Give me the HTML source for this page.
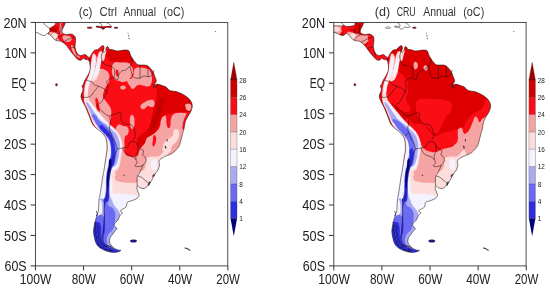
<!DOCTYPE html>
<html><head><meta charset="utf-8"><title>Annual temperature maps</title>
<style>
html,body{margin:0;padding:0;background:#fff;}
svg{display:block;}
text{font-family:"Liberation Sans",sans-serif;}
.ax{font-size:15px;fill:#222;}
.ti{font-size:12.3px;fill:#333;}
.cb{font-size:7px;fill:#222;}
</style></head><body>
<svg width="550" height="290" viewBox="0 0 550 290">
<defs><filter id="blur" x="-5%" y="-5%" width="110%" height="110%"><feGaussianBlur stdDeviation="0.45"/></filter></defs>
<rect width="550" height="290" fill="#fff"/>
<g transform="translate(0,0)">
<clipPath id="landL">
<path d="M89.5,58.0 C89.9,57.0 90.3,56.2 91.0,55.0 C91.7,53.8 92.2,53.0 93.0,52.0 C93.8,51.0 94.0,50.5 95.0,50.0 C96.0,49.5 97.0,50.0 98.0,49.5 C99.0,49.0 99.0,48.3 100.0,47.5 C101.0,46.7 102.2,45.5 103.0,45.5 C103.8,45.5 103.9,46.6 104.0,47.5 C104.1,48.4 103.6,49.0 103.5,50.0 C103.4,51.0 103.2,52.2 103.5,52.5 C103.8,52.8 104.5,52.2 105.0,51.5 C105.5,50.8 105.6,50.0 106.0,49.0 C106.4,48.0 106.5,46.8 107.0,46.5 C107.5,46.2 108.0,46.9 108.5,47.5 C109.0,48.1 108.8,48.9 109.5,49.3 C110.2,49.7 110.9,49.3 112.0,49.5 C113.1,49.7 113.8,50.2 115.0,50.5 C116.2,50.8 116.6,51.0 118.0,51.0 C119.4,51.0 120.4,50.5 122.0,50.3 C123.6,50.1 124.6,49.9 126.0,50.0 C127.4,50.1 128.1,50.0 129.0,51.0 C129.9,52.0 129.8,53.5 130.5,55.0 C131.2,56.5 131.6,57.1 132.5,58.5 C133.4,59.9 133.9,60.8 135.0,62.0 C136.1,63.2 136.4,64.1 138.0,64.7 C139.6,65.3 141.2,64.8 143.0,65.0 C144.8,65.2 145.6,64.9 147.0,65.5 C148.4,66.1 148.8,66.7 150.0,68.0 C151.2,69.3 152.0,70.2 153.0,72.0 C154.0,73.8 154.3,75.2 155.0,77.0 C155.7,78.8 156.4,79.5 156.3,81.0 C156.2,82.5 154.2,83.9 154.5,84.5 C154.8,85.1 156.5,84.0 158.0,84.2 C159.5,84.4 160.4,84.9 162.0,85.5 C163.6,86.1 164.6,86.1 166.0,87.0 C167.4,87.9 167.8,89.2 169.0,90.0 C170.2,90.8 170.6,90.7 172.0,91.0 C173.4,91.3 174.4,91.1 176.0,91.5 C177.6,91.9 178.4,92.3 180.0,93.0 C181.6,93.7 182.6,94.2 184.0,95.0 C185.4,95.8 185.8,96.0 187.0,97.0 C188.2,98.0 189.0,98.6 190.0,100.0 C191.0,101.4 191.6,102.4 192.0,104.0 C192.4,105.6 192.4,106.2 192.0,108.0 C191.6,109.8 191.0,111.0 190.0,113.0 C189.0,115.0 188.0,116.0 187.0,118.0 C186.0,120.0 185.6,120.8 185.0,123.0 C184.4,125.2 184.5,126.8 184.0,129.0 C183.5,131.2 183.1,131.8 182.5,134.0 C181.9,136.2 181.7,137.6 181.0,140.0 C180.3,142.4 180.2,143.8 179.0,146.0 C177.8,148.2 176.6,149.4 175.0,151.0 C173.4,152.6 172.6,153.1 171.0,154.0 C169.4,154.9 168.8,154.7 167.0,155.5 C165.2,156.3 163.6,156.9 162.0,158.0 C160.4,159.1 159.5,159.6 159.0,161.0 C158.5,162.4 159.7,163.2 159.5,165.0 C159.3,166.8 158.9,168.2 158.0,170.0 C157.1,171.8 156.0,172.4 155.0,174.0 C154.0,175.6 154.0,176.2 153.0,178.0 C152.0,179.8 151.2,181.3 150.0,183.0 C148.8,184.7 148.2,185.4 147.0,186.5 C145.8,187.6 145.4,188.3 144.0,188.5 C142.6,188.7 141.3,188.2 140.0,187.7 C138.7,187.2 137.9,185.7 137.3,186.0 C136.7,186.3 136.8,187.6 137.0,189.0 C137.2,190.4 138.1,191.6 138.5,193.0 C138.9,194.4 139.5,194.8 139.0,196.0 C138.5,197.2 137.6,198.0 136.0,199.0 C134.4,200.0 132.7,200.3 131.0,201.0 C129.3,201.7 128.5,201.1 127.5,202.3 C126.5,203.5 127.1,205.6 126.0,207.0 C124.9,208.4 123.1,208.7 122.0,209.5 C120.9,210.3 120.2,210.3 120.3,211.0 C120.4,211.7 122.6,212.1 122.5,213.0 C122.4,213.9 120.9,214.1 120.0,215.5 C119.1,216.9 119.0,218.5 118.0,220.0 C117.0,221.5 115.7,221.8 115.0,223.0 C114.3,224.2 114.1,224.9 114.5,226.0 C114.9,227.1 116.9,227.5 117.0,228.5 C117.1,229.5 116.0,229.7 115.0,231.0 C114.0,232.3 113.0,233.6 112.0,235.0 C111.0,236.4 110.5,236.6 110.0,238.0 C109.5,239.4 109.3,240.6 109.5,242.0 C109.7,243.4 110.1,243.8 111.0,245.0 C111.9,246.2 112.6,247.0 114.0,248.0 C115.4,249.0 116.6,249.5 118.0,250.0 C119.4,250.5 121.4,250.0 121.0,250.5 C120.6,251.0 118.2,252.0 116.0,252.3 C113.8,252.6 112.4,252.5 110.0,252.0 C107.6,251.5 106.2,251.0 104.0,250.0 C101.8,249.0 100.6,248.4 99.0,247.0 C97.4,245.6 96.9,244.8 96.0,243.0 C95.1,241.2 95.0,240.2 94.5,238.0 C94.0,235.8 93.6,234.2 93.5,232.0 C93.4,229.8 93.7,229.0 94.0,227.0 C94.3,225.0 94.4,224.4 95.0,222.0 C95.6,219.6 96.3,217.4 97.0,215.0 C97.7,212.6 98.1,213.0 98.5,210.0 C98.9,207.0 98.7,203.0 99.0,200.0 C99.3,197.0 99.5,198.0 100.0,195.0 C100.5,192.0 100.9,189.0 101.5,185.0 C102.1,181.0 102.5,178.0 103.0,175.0 C103.5,172.0 103.5,173.0 104.0,170.0 C104.5,167.0 104.9,164.0 105.5,160.0 C106.1,156.0 106.7,152.6 107.0,150.0 C107.3,147.4 107.1,149.0 107.0,147.0 C106.9,145.0 107.1,142.4 106.5,140.0 C105.9,137.6 105.3,136.8 104.0,135.0 C102.7,133.2 101.8,132.6 100.0,131.0 C98.2,129.4 96.6,128.6 95.0,127.0 C93.4,125.4 93.0,124.8 92.0,123.0 C91.0,121.2 90.8,120.0 90.0,118.0 C89.2,116.0 88.8,115.0 88.0,113.0 C87.2,111.0 86.8,109.8 86.0,108.0 C85.2,106.2 84.8,105.6 84.0,104.0 C83.2,102.4 82.6,101.6 82.0,100.0 C81.4,98.4 80.8,98.0 81.0,96.0 C81.2,94.0 82.8,92.0 83.0,90.0 C83.2,88.0 82.0,87.0 82.0,86.0 C82.0,85.0 82.4,86.2 83.0,85.0 C83.6,83.8 84.0,82.0 85.0,80.0 C86.0,78.0 87.0,77.0 88.0,75.0 C89.0,73.0 89.6,72.0 90.0,70.0 C90.4,68.0 90.2,67.0 90.0,65.0 C89.8,63.0 89.1,61.4 89.0,60.0 C88.9,58.6 89.1,59.0 89.5,58.0 Z"/>
<path d="M57.0,21.0 C59.0,20.2 63.5,20.2 65.0,21.0 C66.5,21.8 64.9,23.6 64.5,25.0 C64.1,26.4 63.5,26.8 63.0,28.0 C62.5,29.2 62.0,29.9 62.0,31.0 C62.0,32.1 62.0,32.8 63.0,33.5 C64.0,34.2 65.4,34.4 67.0,34.5 C68.6,34.6 69.6,33.8 71.0,34.0 C72.4,34.2 73.1,34.7 74.0,35.5 C74.9,36.3 75.2,36.7 75.5,38.0 C75.8,39.3 75.6,40.4 75.5,42.0 C75.4,43.6 75.0,44.6 75.0,46.0 C75.0,47.4 75.1,47.6 75.5,49.0 C75.9,50.4 76.1,51.7 77.0,53.0 C77.9,54.3 78.8,55.1 80.0,55.5 C81.2,55.9 82.0,55.2 83.0,55.0 C84.0,54.8 84.2,54.3 85.0,54.5 C85.8,54.7 86.1,55.3 87.0,56.0 C87.9,56.7 88.9,57.1 89.5,58.0 C90.1,58.9 90.3,60.2 89.8,60.5 C89.3,60.8 88.0,59.9 87.0,59.6 C86.0,59.3 85.7,59.5 85.0,59.2 C84.3,58.9 83.8,58.3 83.3,58.3 C82.8,58.3 83.0,58.9 82.3,59.3 C81.6,59.7 81.1,60.4 80.0,60.3 C78.9,60.2 78.0,59.5 77.0,58.7 C76.0,57.9 76.0,57.6 75.0,56.5 C74.0,55.4 73.2,54.5 72.0,53.0 C70.8,51.5 69.8,50.1 69.0,49.0 C68.2,47.9 68.6,48.3 68.0,47.5 C67.4,46.7 67.0,46.0 66.0,45.0 C65.0,44.0 64.2,43.3 63.0,42.5 C61.8,41.7 61.4,41.4 60.0,41.0 C58.6,40.6 57.4,41.1 56.0,40.5 C54.6,39.9 54.0,39.0 53.0,38.0 C52.0,37.0 52.0,36.4 51.0,35.5 C50.0,34.6 48.2,34.4 48.0,33.5 C47.8,32.6 49.7,31.9 50.0,31.0 C50.3,30.1 49.3,29.7 49.5,29.0 C49.7,28.3 49.9,28.3 51.0,27.5 C52.1,26.7 53.8,26.3 55.0,25.0 C56.2,23.7 55.0,21.8 57.0,21.0 Z"/>
<path d="M96.5,27.2 C97.2,27.5 98.7,27.4 100.1,27.8 C101.5,28.2 102.1,29.4 103.3,29.3 C104.5,29.2 104.8,27.8 106.2,27.5 C107.6,27.2 109.4,27.9 110.5,27.7 C111.6,27.5 112.0,26.7 111.5,26.3 C111.0,25.9 109.5,25.9 108.0,25.9 C106.5,25.9 105.3,26.2 104.0,26.3 C102.7,26.4 102.6,26.4 101.6,26.4 C100.6,26.4 99.9,26.5 98.9,26.4 C97.9,26.3 97.2,25.9 96.7,26.1 C96.2,26.3 95.8,26.9 96.5,27.2 Z"/>
</clipPath>
<clipPath id="frameL"><rect x="35" y="22" width="193" height="244"/></clipPath>
<g clip-path="url(#frameL)">
<g clip-path="url(#landL)" filter="url(#blur)">
<rect x="30" y="18" width="205" height="255" fill="#fb0d18"/>
<path d="M106.0,51.0 C107.9,49.7 108.3,49.4 112.0,49.0 C115.7,48.6 115.5,49.2 120.0,49.5 C124.5,49.8 125.8,48.3 129.0,50.0 C132.2,51.7 130.7,53.3 132.0,56.0 C133.3,58.7 134.5,58.4 134.0,60.0 C133.5,61.6 132.1,61.6 130.0,62.0 C127.9,62.4 128.7,61.5 126.0,61.5 C123.3,61.5 123.2,61.9 120.0,62.0 C116.8,62.1 116.7,62.3 114.0,62.0 C111.3,61.7 111.9,62.1 110.0,61.0 C108.1,59.9 108.3,59.9 107.0,58.0 C105.7,56.1 105.3,55.9 105.0,54.0 C104.7,52.1 104.1,52.3 106.0,51.0 Z" fill="#de0000"/>
<path d="M157.0,83.0 C154.1,84.9 157.3,87.5 157.0,92.0 C156.7,96.5 156.8,95.7 156.0,100.0 C155.2,104.3 155.1,103.7 154.0,108.0 C152.9,112.3 153.1,111.7 152.0,116.0 C150.9,120.3 151.6,120.0 150.0,124.0 C148.4,128.0 148.7,128.1 146.0,131.0 C143.3,133.9 142.4,132.3 140.0,135.0 C137.6,137.7 137.0,137.8 137.0,141.0 C137.0,144.2 137.6,146.5 140.0,147.0 C142.4,147.5 143.3,145.4 146.0,143.0 C148.7,140.6 147.9,140.4 150.0,138.0 C152.1,135.6 151.9,136.7 154.0,134.0 C156.1,131.3 156.1,131.2 158.0,128.0 C159.9,124.8 159.4,125.2 161.0,122.0 C162.6,118.8 161.6,118.1 164.0,116.0 C166.4,113.9 166.3,115.1 170.0,114.0 C173.7,112.9 173.7,112.5 178.0,112.0 C182.3,111.5 181.7,112.5 186.0,112.0 C190.3,111.5 191.6,113.2 194.0,110.0 C196.4,106.8 196.6,104.5 195.0,100.0 C193.4,95.5 192.5,95.9 188.0,93.0 C183.5,90.1 183.3,91.1 178.0,89.0 C172.7,86.9 173.6,86.6 168.0,85.0 C162.4,83.4 159.9,81.1 157.0,83.0 Z" fill="#de0000"/>
<path d="M159.0,99.0 C160.9,97.1 163.2,96.6 164.0,99.0 C164.8,101.4 163.3,103.2 162.0,108.0 C160.7,112.8 160.6,112.2 159.0,117.0 C157.4,121.8 157.6,122.3 156.0,126.0 C154.4,129.7 154.6,129.9 153.0,131.0 C151.4,132.1 150.3,132.4 150.0,130.0 C149.7,127.6 150.7,126.5 152.0,122.0 C153.3,117.5 153.7,117.3 155.0,113.0 C156.3,108.7 155.9,109.7 157.0,106.0 C158.1,102.3 157.1,100.9 159.0,99.0 Z" fill="#c40000"/>
<path d="M100.0,69.0 C102.4,68.7 102.7,68.9 105.0,70.0 C107.3,71.1 107.4,70.9 108.5,73.0 C109.6,75.1 109.3,75.5 109.3,78.0 C109.3,80.5 109.4,80.2 108.5,82.5 C107.6,84.8 107.2,84.2 106.0,86.5 C104.8,88.8 104.8,88.2 104.0,91.0 C103.2,93.8 102.7,94.6 103.0,97.0 C103.3,99.4 103.7,98.1 105.0,100.0 C106.3,101.9 106.4,101.5 108.0,104.0 C109.6,106.5 110.2,106.3 111.0,109.5 C111.8,112.7 111.3,112.7 111.0,116.0 C110.7,119.3 110.8,119.1 110.0,122.0 C109.2,124.9 109.6,126.5 108.0,127.0 C106.4,127.5 106.1,125.9 104.0,124.0 C101.9,122.1 102.1,122.7 100.0,120.0 C97.9,117.3 98.1,117.2 96.0,114.0 C93.9,110.8 93.9,111.7 92.0,108.0 C90.1,104.3 90.3,103.7 89.0,100.0 C87.7,96.3 87.5,97.2 87.0,94.0 C86.5,90.8 86.5,91.2 87.0,88.0 C87.5,84.8 87.7,85.2 89.0,82.0 C90.3,78.8 90.1,78.9 92.0,76.0 C93.9,73.1 93.9,72.9 96.0,71.0 C98.1,69.1 97.6,69.3 100.0,69.0 Z" fill="#f6a3a3"/>
<path d="M95.5,98.5 C95.9,96.9 96.6,97.3 97.5,99.0 C98.4,100.7 98.5,101.5 99.0,105.0 C99.5,108.5 99.9,110.0 99.5,112.0 C99.1,114.0 98.4,114.4 97.5,112.5 C96.6,110.6 96.5,108.7 96.0,105.0 C95.5,101.3 95.1,100.1 95.5,98.5 Z" fill="#fb0d18"/>
<path d="M114.0,63.0 C116.4,61.0 117.3,62.5 121.0,62.5 C124.7,62.5 125.3,62.1 128.0,63.0 C130.7,63.9 129.7,64.1 131.0,66.0 C132.3,67.9 132.7,67.6 133.0,70.0 C133.3,72.4 133.1,72.6 132.0,75.0 C130.9,77.4 131.1,77.1 129.0,79.0 C126.9,80.9 126.7,81.5 124.0,82.0 C121.3,82.5 121.1,81.5 119.0,81.0 C116.9,80.5 117.6,81.3 116.0,80.0 C114.4,78.7 114.1,78.7 113.0,76.0 C111.9,73.3 111.7,73.5 112.0,70.0 C112.3,66.5 111.6,65.0 114.0,63.0 Z" fill="#f6a3a3"/>
<path d="M116.0,70.0 C116.5,69.1 117.3,69.2 118.0,70.5 C118.7,71.8 118.8,73.4 118.5,75.0 C118.2,76.6 117.7,76.8 117.0,76.5 C116.3,76.2 116.3,75.7 116.0,74.0 C115.7,72.3 115.5,70.9 116.0,70.0 Z" fill="#fb0d18"/>
<path d="M136.0,68.0 C137.9,67.1 138.1,67.6 141.0,67.8 C143.9,68.0 144.5,67.7 147.0,68.8 C149.5,69.9 149.2,69.5 150.5,72.0 C151.8,74.5 151.9,74.8 152.0,78.0 C152.1,81.2 152.1,81.7 151.0,84.0 C149.9,86.3 150.1,86.1 148.0,86.5 C145.9,86.9 145.7,85.9 143.0,85.5 C140.3,85.1 140.7,84.1 138.0,85.0 C135.3,85.9 135.1,88.7 133.0,89.0 C130.9,89.3 131.6,88.1 130.0,86.0 C128.4,83.9 127.9,83.4 127.0,81.0 C126.1,78.6 125.7,77.5 126.5,77.0 C127.3,76.5 128.3,79.3 130.0,79.0 C131.7,78.7 131.9,78.1 133.0,76.0 C134.1,73.9 133.2,73.1 134.0,71.0 C134.8,68.9 134.1,68.9 136.0,68.0 Z" fill="#f6a3a3"/>
<path d="M121.0,86.0 C122.1,85.2 123.9,85.2 125.0,86.0 C126.1,86.8 126.1,88.2 125.0,89.0 C123.9,89.8 122.1,89.8 121.0,89.0 C119.9,88.2 119.9,86.8 121.0,86.0 Z" fill="#f6a3a3"/>
<path d="M141.0,105.0 C142.1,103.4 142.6,103.3 145.0,102.0 C147.4,100.7 147.6,100.3 150.0,100.0 C152.4,99.7 152.9,99.4 154.0,101.0 C155.1,102.6 154.8,104.4 154.0,106.0 C153.2,107.6 152.6,107.0 151.0,107.0 C149.4,107.0 149.9,105.5 148.0,106.0 C146.1,106.5 145.9,108.5 144.0,109.0 C142.1,109.5 141.8,109.1 141.0,108.0 C140.2,106.9 139.9,106.6 141.0,105.0 Z" fill="#f6a3a3"/>
<path d="M130.5,116.0 C131.4,114.4 132.4,114.4 133.5,116.0 C134.6,117.6 134.5,118.8 134.5,122.0 C134.5,125.2 134.4,126.4 133.5,128.0 C132.6,129.6 131.9,129.6 131.0,128.0 C130.1,126.4 130.1,125.2 130.0,122.0 C129.9,118.8 129.6,117.6 130.5,116.0 Z" fill="#f6a3a3"/>
<path d="M186.0,104.0 C187.2,103.2 188.5,103.2 190.0,104.0 C191.5,104.8 191.5,105.3 191.5,107.0 C191.5,108.7 191.2,109.7 190.0,110.5 C188.8,111.3 188.2,110.9 187.0,110.0 C185.8,109.1 185.8,108.6 185.5,107.0 C185.2,105.4 184.8,104.8 186.0,104.0 Z" fill="#f6a3a3"/>
<path d="M117.0,126.0 C119.9,122.3 120.1,125.5 123.0,126.0 C125.9,126.5 126.7,125.9 128.0,128.0 C129.3,130.1 128.8,131.6 128.0,134.0 C127.2,136.4 125.9,134.1 125.0,137.0 C124.1,139.9 124.5,140.7 124.5,145.0 C124.5,149.3 123.5,149.9 125.0,153.0 C126.5,156.1 126.8,155.7 130.0,156.5 C133.2,157.3 134.6,157.2 137.0,156.0 C139.4,154.8 137.9,154.1 139.0,152.0 C140.1,149.9 139.4,150.4 141.0,148.0 C142.6,145.6 143.4,145.7 145.0,143.0 C146.6,140.3 145.1,140.1 147.0,138.0 C148.9,135.9 149.3,136.9 152.0,135.0 C154.7,133.1 154.9,133.4 157.0,131.0 C159.1,128.6 158.9,128.9 160.0,126.0 C161.1,123.1 159.9,122.7 161.0,120.0 C162.1,117.3 162.7,116.8 164.0,116.0 C165.3,115.2 165.2,114.3 166.0,117.0 C166.8,119.7 165.9,123.3 167.0,126.0 C168.1,128.7 168.9,128.9 170.0,127.0 C171.1,125.1 169.9,122.5 171.0,119.0 C172.1,115.5 171.9,115.6 174.0,114.0 C176.1,112.4 176.6,113.3 179.0,113.0 C181.4,112.7 180.9,112.7 183.0,113.0 C185.1,113.3 184.1,112.7 187.0,114.0 C189.9,115.3 192.7,105.7 194.0,118.0 C195.3,130.3 199.7,139.5 192.0,160.0 C184.3,180.5 178.9,181.7 165.0,195.0 C151.1,208.3 157.3,206.0 140.0,210.0 C122.7,214.0 110.7,226.0 100.0,210.0 C89.3,194.0 96.8,168.7 100.0,150.0 C103.2,131.3 107.5,146.4 112.0,140.0 C116.5,133.6 114.1,129.7 117.0,126.0 Z" fill="#f6a3a3"/>
<path d="M187.5,113.0 C189.0,111.9 190.7,110.7 191.0,112.0 C191.3,113.3 189.8,115.1 188.5,118.0 C187.2,120.9 186.9,120.2 186.0,123.0 C185.1,125.8 185.9,126.9 185.0,128.5 C184.1,130.1 183.2,130.2 182.6,129.0 C182.0,127.8 182.4,126.5 182.8,124.0 C183.2,121.5 183.3,121.6 184.0,119.5 C184.7,117.4 184.6,117.7 185.5,116.0 C186.4,114.3 186.0,114.1 187.5,113.0 Z" fill="#fb0d18"/>
<path d="M153.5,136.0 C154.2,134.9 154.8,134.7 155.5,136.0 C156.2,137.3 156.4,138.3 156.0,141.0 C155.6,143.7 154.9,144.9 154.0,146.0 C153.1,147.1 152.8,146.6 152.5,145.0 C152.2,143.4 152.7,142.4 153.0,140.0 C153.3,137.6 152.8,137.1 153.5,136.0 Z" fill="#fb0d18"/>
<path d="M174.0,130.0 C175.3,128.7 176.7,128.4 178.0,130.0 C179.3,131.6 179.5,132.8 179.0,136.0 C178.5,139.2 177.9,139.3 176.0,142.0 C174.1,144.7 173.6,143.3 172.0,146.0 C170.4,148.7 172.1,150.4 170.0,152.0 C167.9,153.6 165.9,153.6 164.0,152.0 C162.1,150.4 162.5,148.9 163.0,146.0 C163.5,143.1 164.1,143.1 166.0,141.0 C167.9,138.9 168.1,139.6 170.0,138.0 C171.9,136.4 171.9,137.1 173.0,135.0 C174.1,132.9 172.7,131.3 174.0,130.0 Z" fill="#fddcdc"/>
<path d="M110.0,166.0 C114.8,166.0 116.1,164.4 118.0,166.0 C119.9,167.6 117.8,168.7 117.0,172.0 C116.2,175.3 114.2,175.9 115.0,178.5 C115.8,181.1 116.0,180.7 120.0,181.8 C124.0,182.9 125.5,182.7 130.0,182.8 C134.5,182.9 135.1,183.8 137.0,182.0 C138.9,180.2 136.2,178.7 137.0,176.0 C137.8,173.3 137.9,174.1 140.0,172.0 C142.1,169.9 143.4,171.2 145.0,168.0 C146.6,164.8 144.7,163.0 146.0,160.0 C147.3,157.0 146.8,157.7 150.0,156.8 C153.2,155.9 153.2,157.0 158.0,156.5 C162.8,156.0 165.3,143.4 168.0,155.0 C170.7,166.6 186.1,185.3 168.0,200.0 C149.9,214.7 118.1,219.1 100.0,210.0 C81.9,200.9 97.3,177.7 100.0,166.0 C102.7,154.3 105.2,166.0 110.0,166.0 Z" fill="#fddcdc"/>
<path d="M116.0,171.0 C117.2,170.2 118.8,169.9 120.0,171.0 C121.2,172.1 121.3,173.7 120.5,175.0 C119.7,176.3 118.3,176.3 117.0,176.0 C115.7,175.7 115.8,175.3 115.5,174.0 C115.2,172.7 114.8,171.8 116.0,171.0 Z" fill="#f6a3a3"/>
<path d="M152.0,160.0 C153.3,158.9 154.7,158.7 156.0,160.0 C157.3,161.3 157.3,162.3 157.0,165.0 C156.7,167.7 156.3,168.9 155.0,170.0 C153.7,171.1 153.1,170.6 152.0,169.0 C150.9,167.4 151.0,166.4 151.0,164.0 C151.0,161.6 150.7,161.1 152.0,160.0 Z" fill="#f3f3ff"/>
<path d="M113.0,193.0 C115.0,195.3 116.0,193.1 120.0,193.5 C124.0,193.9 124.0,194.1 128.0,194.5 C132.0,194.9 131.5,194.1 135.0,195.0 C138.5,195.9 142.9,195.1 141.0,198.0 C139.1,200.9 132.0,202.8 128.0,206.0 C124.0,209.2 127.6,207.9 126.0,210.0 C124.4,212.1 124.4,213.2 122.0,214.0 C119.6,214.8 119.4,214.1 117.0,213.0 C114.6,211.9 114.9,212.4 113.0,210.0 C111.1,207.6 111.3,206.7 110.0,204.0 C108.7,201.3 108.5,203.7 108.0,200.0 C107.5,196.3 107.7,195.3 108.0,190.0 C108.3,184.7 108.2,184.0 109.0,180.0 C109.8,176.0 110.1,173.7 111.0,175.0 C111.9,176.3 112.0,180.2 112.5,185.0 C113.0,189.8 111.0,190.7 113.0,193.0 Z" fill="#f3f3ff"/>
<path d="M84.0,98.0 C84.3,96.1 84.4,96.2 86.0,97.0 C87.6,97.8 87.9,98.6 90.0,101.0 C92.1,103.4 91.6,103.1 94.0,106.0 C96.4,108.9 96.3,108.8 99.0,112.0 C101.7,115.2 101.3,114.9 104.0,118.0 C106.7,121.1 106.1,120.6 109.0,123.5 C111.9,126.4 112.3,126.2 115.0,129.0 C117.7,131.8 117.3,131.1 119.0,134.0 C120.7,136.9 120.6,137.1 121.5,140.0 C122.4,142.9 122.4,141.8 122.5,145.0 C122.6,148.2 122.4,148.5 122.0,152.0 C121.6,155.5 121.5,154.8 121.0,158.0 C120.5,161.2 120.8,161.3 120.0,164.0 C119.2,166.7 120.1,165.9 118.0,168.0 C115.9,170.1 113.9,168.8 112.0,172.0 C110.1,175.2 111.3,173.9 111.0,180.0 C110.7,186.1 110.5,189.7 111.0,195.0 C111.5,200.3 115.9,198.7 113.0,200.0 C110.1,201.3 103.2,202.7 100.0,200.0 C96.8,197.3 100.2,195.9 101.0,190.0 C101.8,184.1 101.9,184.7 103.0,178.0 C104.1,171.3 103.8,171.9 105.0,165.0 C106.2,158.1 106.8,157.1 107.5,152.0 C108.2,146.9 107.7,149.1 107.5,146.0 C107.3,142.9 107.6,143.2 106.8,140.5 C106.0,137.8 106.2,138.3 104.5,136.0 C102.8,133.7 102.8,134.3 100.5,132.0 C98.2,129.7 98.0,129.9 96.0,127.5 C94.0,125.1 94.3,125.5 93.0,123.0 C91.7,120.5 92.1,120.7 91.0,118.0 C89.9,115.3 90.1,115.7 89.0,113.0 C87.9,110.3 88.1,110.4 87.0,108.0 C85.9,105.6 85.8,106.7 85.0,104.0 C84.2,101.3 83.7,99.9 84.0,98.0 Z" fill="#fddcdc"/>
<path d="M84.5,98.5 C84.5,97.0 84.7,97.1 86.0,98.0 C87.3,98.9 87.6,99.7 89.5,102.0 C91.4,104.3 90.7,103.7 93.0,106.5 C95.3,109.3 95.3,109.3 98.0,112.5 C100.7,115.7 100.3,115.4 103.0,118.5 C105.7,121.6 105.1,121.1 108.0,124.0 C110.9,126.9 111.3,126.7 114.0,129.5 C116.7,132.3 116.3,131.7 118.0,134.5 C119.7,137.3 119.6,137.2 120.5,140.0 C121.4,142.8 121.4,141.8 121.5,145.0 C121.6,148.2 121.4,148.5 121.0,152.0 C120.6,155.5 120.5,154.8 120.0,158.0 C119.5,161.2 119.8,161.3 119.0,164.0 C118.2,166.7 118.9,165.9 117.0,168.0 C115.1,170.1 113.6,168.8 112.0,172.0 C110.4,175.2 111.3,173.9 111.0,180.0 C110.7,186.1 110.5,189.7 111.0,195.0 C111.5,200.3 115.9,198.7 113.0,200.0 C110.1,201.3 103.2,202.7 100.0,200.0 C96.8,197.3 100.2,195.9 101.0,190.0 C101.8,184.1 101.9,184.7 103.0,178.0 C104.1,171.3 103.8,171.9 105.0,165.0 C106.2,158.1 106.7,157.1 107.5,152.0 C108.3,146.9 108.0,149.2 108.0,146.0 C108.0,142.8 108.2,142.8 107.5,140.0 C106.8,137.2 107.1,137.8 105.5,135.5 C103.9,133.2 103.8,133.8 101.5,131.5 C99.2,129.2 99.0,129.4 97.0,127.0 C95.0,124.6 95.3,125.0 94.0,122.5 C92.7,120.0 93.1,120.2 92.0,117.5 C90.9,114.8 91.1,115.2 90.0,112.5 C88.9,109.8 89.1,109.9 88.0,107.5 C86.9,105.1 86.9,105.9 86.0,103.5 C85.1,101.1 84.5,100.0 84.5,98.5 Z" fill="#f3f3ff"/>
<path d="M86.5,102.0 C87.0,101.6 86.9,101.9 88.0,103.0 C89.1,104.1 89.2,104.1 90.5,106.0 C91.8,107.9 91.4,107.6 93.0,110.0 C94.6,112.4 94.5,112.3 96.5,115.0 C98.5,117.7 97.7,117.3 100.5,120.0 C103.3,122.7 103.8,122.3 107.0,125.0 C110.2,127.7 109.8,127.3 112.5,130.0 C115.2,132.7 115.3,132.3 117.0,135.0 C118.7,137.7 118.2,137.3 119.0,140.0 C119.8,142.7 119.9,142.3 120.0,145.0 C120.1,147.7 119.8,147.3 119.5,150.0 C119.2,152.7 119.4,152.3 119.0,155.0 C118.6,157.7 118.8,157.3 118.0,160.0 C117.2,162.7 117.6,162.6 116.0,165.0 C114.4,167.4 113.6,165.3 112.0,169.0 C110.4,172.7 110.6,174.7 110.0,179.0 C109.4,183.3 109.7,180.7 109.7,185.0 C109.7,189.3 109.4,191.0 110.0,195.0 C110.6,199.0 110.9,197.3 112.0,200.0 C113.1,202.7 112.4,202.3 114.0,205.0 C115.6,207.7 116.4,207.3 118.0,210.0 C119.6,212.7 119.9,212.3 120.0,215.0 C120.1,217.7 119.3,217.3 118.5,220.0 C117.7,222.7 117.1,222.3 117.0,225.0 C116.9,227.7 119.1,227.3 118.0,230.0 C116.9,232.7 115.0,232.3 113.0,235.0 C111.0,237.7 110.9,237.3 110.5,240.0 C110.1,242.7 108.4,242.3 111.5,245.0 C114.6,247.7 119.2,247.6 122.0,250.0 C124.8,252.4 127.9,252.9 122.0,254.0 C116.1,255.1 108.3,256.1 100.0,254.0 C91.7,251.9 93.4,253.7 91.0,246.0 C88.6,238.3 90.2,233.3 91.0,225.0 C91.8,216.7 92.4,220.1 94.0,215.0 C95.6,209.9 94.6,210.0 97.0,206.0 C99.4,202.0 100.9,202.9 103.0,200.0 C105.1,197.1 104.2,199.0 105.0,195.0 C105.8,191.0 105.7,189.3 106.0,185.0 C106.3,180.7 105.7,183.0 106.0,179.0 C106.3,175.0 106.3,173.7 107.0,170.0 C107.7,166.3 108.0,167.7 108.5,165.0 C109.0,162.3 108.4,162.7 109.0,160.0 C109.6,157.3 110.1,157.7 110.6,155.0 C111.1,152.3 110.9,152.7 110.8,150.0 C110.7,147.3 110.7,147.5 110.2,145.0 C109.7,142.5 110.0,142.8 109.0,140.5 C108.0,138.2 107.9,138.6 106.3,136.5 C104.7,134.4 105.0,134.8 103.0,132.5 C101.0,130.2 100.7,130.3 98.8,128.0 C96.9,125.7 97.5,126.5 95.8,124.0 C94.1,121.5 93.9,121.3 92.5,118.5 C91.1,115.7 91.6,116.2 90.5,113.5 C89.4,110.8 89.6,110.9 88.5,108.5 C87.4,106.1 86.8,106.2 86.3,104.5 C85.8,102.8 86.0,102.4 86.5,102.0 Z" fill="#aaaaf3"/>
<path d="M95.5,115.5 C97.4,117.0 96.6,118.0 99.0,120.5 C101.4,123.0 101.6,122.3 104.5,125.0 C107.4,127.7 107.6,127.6 110.0,130.5 C112.4,133.4 112.0,132.9 113.5,136.0 C115.0,139.1 114.7,138.8 115.5,142.0 C116.3,145.2 116.2,144.5 116.5,148.0 C116.8,151.5 116.8,151.8 116.5,155.0 C116.2,158.2 116.2,157.3 115.5,160.0 C114.8,162.7 115.1,162.6 114.0,165.0 C112.9,167.4 112.7,165.3 111.5,169.0 C110.3,172.7 110.2,174.7 109.6,179.0 C109.0,183.3 109.3,180.7 109.2,185.0 C109.1,189.3 109.3,191.0 109.2,195.0 C109.1,199.0 109.3,197.3 109.0,200.0 C108.7,202.7 106.7,202.3 108.0,205.0 C109.3,207.7 112.1,206.0 114.0,210.0 C115.9,214.0 115.3,214.9 115.0,220.0 C114.7,225.1 114.9,225.0 113.0,229.0 C111.1,233.0 109.6,231.5 108.0,235.0 C106.4,238.5 106.5,238.8 107.0,242.0 C107.5,245.2 107.1,244.5 110.0,247.0 C112.9,249.5 120.7,249.6 118.0,251.5 C115.3,253.4 107.2,255.5 100.0,254.0 C92.8,252.5 93.4,253.7 91.0,246.0 C88.6,238.3 90.2,233.3 91.0,225.0 C91.8,216.7 92.1,219.8 94.0,215.0 C95.9,210.2 95.5,211.0 98.0,207.0 C100.5,203.0 101.5,203.2 103.5,200.0 C105.5,196.8 104.8,199.0 105.5,195.0 C106.2,191.0 106.1,189.3 106.3,185.0 C106.5,180.7 106.0,183.0 106.3,179.0 C106.6,175.0 106.8,173.7 107.5,170.0 C108.2,166.3 108.3,167.7 109.0,165.0 C109.7,162.3 109.5,162.7 110.0,160.0 C110.5,157.3 110.6,157.7 110.9,155.0 C111.2,152.3 111.2,152.7 111.1,150.0 C111.0,147.3 111.1,147.5 110.6,145.0 C110.1,142.5 110.4,142.8 109.4,140.5 C108.4,138.2 108.3,138.5 106.8,136.5 C105.3,134.5 105.5,135.1 103.6,133.0 C101.7,130.9 101.3,130.8 99.5,128.5 C97.7,126.2 98.3,126.9 96.8,124.5 C95.3,122.1 95.3,122.0 94.0,119.5 C92.7,117.0 91.6,116.1 92.0,115.0 C92.4,113.9 93.6,114.0 95.5,115.5 Z" fill="#6a6af2"/>
<path d="M101.0,125.0 C102.5,125.1 103.4,126.5 105.5,128.5 C107.6,130.5 107.3,130.2 109.0,132.5 C110.7,134.8 110.7,134.2 112.0,137.0 C113.3,139.8 113.2,139.5 114.0,143.0 C114.8,146.5 114.7,146.0 115.0,150.0 C115.3,154.0 115.3,154.3 115.0,158.0 C114.7,161.7 115.1,161.1 114.0,164.0 C112.9,166.9 112.3,165.0 111.0,169.0 C109.7,173.0 109.8,173.4 109.3,179.0 C108.8,184.6 109.2,184.4 109.0,190.0 C108.8,195.6 109.6,196.0 108.5,200.0 C107.4,204.0 105.9,197.3 105.0,205.0 C104.1,212.7 105.5,220.7 105.0,229.0 C104.5,237.3 103.3,232.3 103.0,236.0 C102.7,239.7 101.6,239.5 104.0,243.0 C106.4,246.5 108.3,246.7 112.0,249.0 C115.7,251.3 121.2,250.2 118.0,251.5 C114.8,252.8 107.2,255.5 100.0,254.0 C92.8,252.5 93.4,253.7 91.0,246.0 C88.6,238.3 90.2,233.3 91.0,225.0 C91.8,216.7 92.1,219.8 94.0,215.0 C95.9,210.2 95.5,211.0 98.0,207.0 C100.5,203.0 101.1,203.2 103.2,200.0 C105.3,196.8 104.9,199.0 105.8,195.0 C106.7,191.0 106.2,189.3 106.4,185.0 C106.6,180.7 106.2,183.0 106.6,179.0 C107.0,175.0 107.1,174.0 108.0,170.0 C108.9,166.0 109.1,167.2 110.0,164.0 C110.9,160.8 110.8,161.7 111.2,158.0 C111.6,154.3 111.5,153.7 111.4,150.0 C111.3,146.3 111.4,146.7 110.9,144.0 C110.4,141.3 110.7,142.1 109.7,140.0 C108.7,137.9 108.7,138.1 107.0,136.0 C105.3,133.9 105.1,134.1 103.2,132.0 C101.3,129.9 100.4,129.9 99.8,128.0 C99.2,126.1 99.5,124.9 101.0,125.0 Z" fill="#2e2ee0"/>
<path d="M109.3,160.0 C110.0,158.1 110.9,157.9 111.3,160.0 C111.7,162.1 111.3,164.0 110.7,168.0 C110.1,172.0 109.9,170.2 109.2,175.0 C108.5,179.8 108.8,183.1 108.2,186.0 C107.6,188.9 107.2,188.9 107.0,186.0 C106.8,183.1 106.9,180.1 107.3,175.0 C107.7,169.9 108.1,171.0 108.6,167.0 C109.1,163.0 108.6,161.9 109.3,160.0 Z" fill="#00007a"/>
<path d="M98.0,203.0 C99.7,199.8 101.8,195.5 103.2,200.0 C104.6,204.5 105.1,214.7 103.2,220.0 C101.3,225.3 97.7,222.1 96.0,220.0 C94.3,217.9 96.5,216.5 97.0,212.0 C97.5,207.5 96.3,206.2 98.0,203.0 Z" fill="#aaaaf3"/>
<path d="M98.5,203.0 C99.6,199.7 100.7,198.6 101.5,201.5 C102.3,204.4 102.6,210.7 101.5,214.0 C100.4,217.3 98.3,216.9 97.5,214.0 C96.7,211.1 97.4,206.3 98.5,203.0 Z" fill="#f3f3ff"/>
<path d="M96.0,218.0 C98.7,214.8 101.1,212.8 103.0,216.0 C104.9,219.2 103.5,224.1 103.0,230.0 C102.5,235.9 102.1,234.5 101.0,238.0 C99.9,241.5 100.6,243.0 99.0,243.0 C97.4,243.0 96.6,242.0 95.0,238.0 C93.4,234.0 92.7,233.3 93.0,228.0 C93.3,222.7 93.3,221.2 96.0,218.0 Z" fill="#6a6af2"/>
<path d="M93.0,224.0 C94.3,220.3 95.9,221.5 98.0,222.0 C100.1,222.5 100.1,222.3 101.0,226.0 C101.9,229.7 101.0,231.5 101.5,236.0 C102.0,240.5 101.3,239.9 103.0,243.0 C104.7,246.1 105.1,245.9 108.0,247.5 C110.9,249.1 110.5,248.1 114.0,249.0 C117.5,249.9 120.5,249.9 121.0,251.0 C121.5,252.1 120.5,253.0 116.0,253.0 C111.5,253.0 109.3,253.4 104.0,251.0 C98.7,248.6 98.9,248.0 96.0,244.0 C93.1,240.0 93.8,241.3 93.0,236.0 C92.2,230.7 91.7,227.7 93.0,224.0 Z" fill="#2e2ee0"/>
<path d="M93.0,54.0 C94.2,52.9 95.1,53.9 96.0,56.0 C96.9,58.1 96.5,58.8 96.3,62.0 C96.1,65.2 95.8,64.8 95.3,68.0 C94.8,71.2 95.0,71.3 94.3,74.0 C93.6,76.7 93.5,75.9 92.5,78.0 C91.5,80.1 91.4,79.9 90.5,82.0 C89.6,84.1 89.6,83.9 89.0,86.0 C88.4,88.1 88.6,87.6 88.3,90.0 C88.0,92.4 87.8,92.3 88.0,95.0 C88.2,97.7 89.7,98.4 89.0,100.0 C88.3,101.6 86.8,102.1 85.5,101.0 C84.2,99.9 84.3,98.9 84.0,96.0 C83.7,93.1 84.0,93.2 84.3,90.0 C84.6,86.8 84.5,86.9 85.3,84.0 C86.1,81.1 86.2,81.7 87.3,79.0 C88.4,76.3 88.4,77.5 89.3,74.0 C90.2,70.5 89.9,69.7 90.5,66.0 C91.1,62.3 90.8,63.2 91.5,60.0 C92.2,56.8 91.8,55.1 93.0,54.0 Z" fill="#fddcdc"/>
<path d="M93.5,58.0 C94.3,56.1 94.7,56.9 95.0,59.0 C95.3,61.1 95.1,62.0 94.6,66.0 C94.1,70.0 94.0,70.3 93.0,74.0 C92.0,77.7 92.0,77.1 90.8,80.0 C89.6,82.9 89.5,81.8 88.6,85.0 C87.7,88.2 88.3,90.1 87.5,92.0 C86.7,93.9 85.9,94.1 85.5,92.0 C85.1,89.9 85.3,87.5 86.0,84.0 C86.7,80.5 86.9,81.9 88.0,79.0 C89.1,76.1 88.9,76.5 90.0,73.0 C91.1,69.5 91.1,70.0 92.0,66.0 C92.9,62.0 92.7,59.9 93.5,58.0 Z" fill="#f3f3ff"/>
<path d="M100.0,51.5 C101.3,51.0 102.5,51.3 103.0,53.0 C103.5,54.7 102.6,55.1 102.0,58.0 C101.4,60.9 101.4,60.8 100.8,64.0 C100.2,67.2 100.5,66.8 99.8,70.0 C99.1,73.2 99.3,73.2 98.0,76.0 C96.7,78.8 96.7,79.4 95.0,80.5 C93.3,81.6 91.8,82.0 91.5,80.0 C91.2,78.0 92.9,76.7 94.0,73.0 C95.1,69.3 95.0,69.5 95.7,66.0 C96.4,62.5 96.2,62.9 96.8,60.0 C97.4,57.1 97.1,57.3 98.0,55.0 C98.9,52.7 98.7,52.0 100.0,51.5 Z" fill="#fddcdc"/>
<path d="M99.3,58.0 C100.6,56.1 100.9,56.9 101.0,59.0 C101.1,61.1 100.5,62.3 99.6,66.0 C98.7,69.7 99.0,70.1 97.8,73.0 C96.6,75.9 95.9,76.7 95.0,77.0 C94.1,77.3 94.0,76.9 94.3,74.0 C94.6,71.1 95.0,70.3 96.3,66.0 C97.6,61.7 98.0,59.9 99.3,58.0 Z" fill="#f3f3ff"/>
<path d="M104.0,50.0 C105.1,48.8 106.0,49.2 106.3,50.5 C106.6,51.8 105.9,52.5 105.3,55.0 C104.7,57.5 104.9,58.5 104.0,60.0 C103.1,61.5 102.5,61.8 102.0,60.5 C101.5,59.2 101.8,57.8 102.3,55.0 C102.8,52.2 102.9,51.2 104.0,50.0 Z" fill="#fddcdc"/>
<path d="M95.0,21.0 C99.8,18.6 108.2,18.6 113.0,21.0 C117.8,23.4 117.8,27.6 113.0,30.0 C108.2,32.4 99.8,32.4 95.0,30.0 C90.2,27.6 90.2,23.4 95.0,21.0 Z" fill="#c00010"/>
<path d="M49.0,27.0 C51.1,25.4 54.6,25.2 57.0,26.0 C59.4,26.8 58.8,28.4 58.0,30.0 C57.2,31.6 56.4,31.5 54.0,32.0 C51.6,32.5 50.3,33.3 49.0,32.0 C47.7,30.7 46.9,28.6 49.0,27.0 Z" fill="#de0000"/>
<path d="M60.0,24.0 C60.5,21.6 61.3,21.6 61.7,24.0 C62.1,26.4 62.0,30.6 61.5,33.0 C61.0,35.4 60.4,35.4 60.0,33.0 C59.6,30.6 59.5,26.4 60.0,24.0 Z" fill="#f6a3a3"/>
<path d="M50.0,32.0 C51.5,31.6 51.9,32.1 54.0,32.5 C56.1,32.9 56.9,32.0 58.0,33.5 C59.1,35.0 57.5,36.0 58.0,38.0 C58.5,40.0 60.5,40.2 60.0,41.0 C59.5,41.8 58.1,41.8 56.0,41.0 C53.9,40.2 54.0,39.9 52.0,38.0 C50.0,36.1 49.0,35.6 48.5,34.0 C48.0,32.4 48.5,32.4 50.0,32.0 Z" fill="#f6a3a3"/>
<path d="M63.0,36.0 C63.9,34.9 64.9,35.5 67.0,35.8 C69.1,36.1 69.9,35.7 71.0,37.0 C72.1,38.3 72.1,39.2 71.0,40.5 C69.9,41.8 69.0,42.1 67.0,42.0 C65.0,41.9 64.6,41.6 63.5,40.0 C62.4,38.4 62.1,37.1 63.0,36.0 Z" fill="#f6a3a3"/>
<path d="M53.0,33.5 C54.2,33.0 55.4,32.8 56.5,34.0 C57.6,35.2 57.7,36.7 57.0,38.0 C56.3,39.3 55.3,39.5 54.0,39.0 C52.7,38.5 52.3,37.5 52.0,36.0 C51.7,34.5 51.8,34.0 53.0,33.5 Z" fill="#fddcdc"/>
<path d="M71.0,46.0 C71.1,44.7 72.1,44.9 73.0,46.0 C73.9,47.1 73.4,47.7 74.5,50.0 C75.6,52.3 75.5,52.6 77.0,54.5 C78.5,56.4 79.6,56.2 80.0,57.0 C80.4,57.8 79.8,58.0 78.5,57.5 C77.2,57.0 76.6,56.7 75.0,55.0 C73.4,53.3 73.6,53.4 72.5,51.0 C71.4,48.6 70.9,47.3 71.0,46.0 Z" fill="#f6a3a3"/>
</g>
<g fill="none" stroke="#1c1010" stroke-width="0.6" stroke-linejoin="round" opacity="0.9">
<path d="M89.5,58.0 C89.9,57.0 90.3,56.2 91.0,55.0 C91.7,53.8 92.2,53.0 93.0,52.0 C93.8,51.0 94.0,50.5 95.0,50.0 C96.0,49.5 97.0,50.0 98.0,49.5 C99.0,49.0 99.0,48.3 100.0,47.5 C101.0,46.7 102.2,45.5 103.0,45.5 C103.8,45.5 103.9,46.6 104.0,47.5 C104.1,48.4 103.6,49.0 103.5,50.0 C103.4,51.0 103.2,52.2 103.5,52.5 C103.8,52.8 104.5,52.2 105.0,51.5 C105.5,50.8 105.6,50.0 106.0,49.0 C106.4,48.0 106.5,46.8 107.0,46.5 C107.5,46.2 108.0,46.9 108.5,47.5 C109.0,48.1 108.8,48.9 109.5,49.3 C110.2,49.7 110.9,49.3 112.0,49.5 C113.1,49.7 113.8,50.2 115.0,50.5 C116.2,50.8 116.6,51.0 118.0,51.0 C119.4,51.0 120.4,50.5 122.0,50.3 C123.6,50.1 124.6,49.9 126.0,50.0 C127.4,50.1 128.1,50.0 129.0,51.0 C129.9,52.0 129.8,53.5 130.5,55.0 C131.2,56.5 131.6,57.1 132.5,58.5 C133.4,59.9 133.9,60.8 135.0,62.0 C136.1,63.2 136.4,64.1 138.0,64.7 C139.6,65.3 141.2,64.8 143.0,65.0 C144.8,65.2 145.6,64.9 147.0,65.5 C148.4,66.1 148.8,66.7 150.0,68.0 C151.2,69.3 152.0,70.2 153.0,72.0 C154.0,73.8 154.3,75.2 155.0,77.0 C155.7,78.8 156.4,79.5 156.3,81.0 C156.2,82.5 154.2,83.9 154.5,84.5 C154.8,85.1 156.5,84.0 158.0,84.2 C159.5,84.4 160.4,84.9 162.0,85.5 C163.6,86.1 164.6,86.1 166.0,87.0 C167.4,87.9 167.8,89.2 169.0,90.0 C170.2,90.8 170.6,90.7 172.0,91.0 C173.4,91.3 174.4,91.1 176.0,91.5 C177.6,91.9 178.4,92.3 180.0,93.0 C181.6,93.7 182.6,94.2 184.0,95.0 C185.4,95.8 185.8,96.0 187.0,97.0 C188.2,98.0 189.0,98.6 190.0,100.0 C191.0,101.4 191.6,102.4 192.0,104.0 C192.4,105.6 192.4,106.2 192.0,108.0 C191.6,109.8 191.0,111.0 190.0,113.0 C189.0,115.0 188.0,116.0 187.0,118.0 C186.0,120.0 185.6,120.8 185.0,123.0 C184.4,125.2 184.5,126.8 184.0,129.0 C183.5,131.2 183.1,131.8 182.5,134.0 C181.9,136.2 181.7,137.6 181.0,140.0 C180.3,142.4 180.2,143.8 179.0,146.0 C177.8,148.2 176.6,149.4 175.0,151.0 C173.4,152.6 172.6,153.1 171.0,154.0 C169.4,154.9 168.8,154.7 167.0,155.5 C165.2,156.3 163.6,156.9 162.0,158.0 C160.4,159.1 159.5,159.6 159.0,161.0 C158.5,162.4 159.7,163.2 159.5,165.0 C159.3,166.8 158.9,168.2 158.0,170.0 C157.1,171.8 156.0,172.4 155.0,174.0 C154.0,175.6 154.0,176.2 153.0,178.0 C152.0,179.8 151.2,181.3 150.0,183.0 C148.8,184.7 148.2,185.4 147.0,186.5 C145.8,187.6 145.4,188.3 144.0,188.5 C142.6,188.7 141.3,188.2 140.0,187.7 C138.7,187.2 137.9,185.7 137.3,186.0 C136.7,186.3 136.8,187.6 137.0,189.0 C137.2,190.4 138.1,191.6 138.5,193.0 C138.9,194.4 139.5,194.8 139.0,196.0 C138.5,197.2 137.6,198.0 136.0,199.0 C134.4,200.0 132.7,200.3 131.0,201.0 C129.3,201.7 128.5,201.1 127.5,202.3 C126.5,203.5 127.1,205.6 126.0,207.0 C124.9,208.4 123.1,208.7 122.0,209.5 C120.9,210.3 120.2,210.3 120.3,211.0 C120.4,211.7 122.6,212.1 122.5,213.0 C122.4,213.9 120.9,214.1 120.0,215.5 C119.1,216.9 119.0,218.5 118.0,220.0 C117.0,221.5 115.7,221.8 115.0,223.0 C114.3,224.2 114.1,224.9 114.5,226.0 C114.9,227.1 116.9,227.5 117.0,228.5 C117.1,229.5 116.0,229.7 115.0,231.0 C114.0,232.3 113.0,233.6 112.0,235.0 C111.0,236.4 110.5,236.6 110.0,238.0 C109.5,239.4 109.3,240.6 109.5,242.0 C109.7,243.4 110.1,243.8 111.0,245.0 C111.9,246.2 112.6,247.0 114.0,248.0 C115.4,249.0 116.6,249.5 118.0,250.0 C119.4,250.5 121.4,250.0 121.0,250.5 C120.6,251.0 118.2,252.0 116.0,252.3 C113.8,252.6 112.4,252.5 110.0,252.0 C107.6,251.5 106.2,251.0 104.0,250.0 C101.8,249.0 100.6,248.4 99.0,247.0 C97.4,245.6 96.9,244.8 96.0,243.0 C95.1,241.2 95.0,240.2 94.5,238.0 C94.0,235.8 93.6,234.2 93.5,232.0 C93.4,229.8 93.7,229.0 94.0,227.0 C94.3,225.0 94.4,224.4 95.0,222.0 C95.6,219.6 96.3,217.4 97.0,215.0 C97.7,212.6 98.1,213.0 98.5,210.0 C98.9,207.0 98.7,203.0 99.0,200.0 C99.3,197.0 99.5,198.0 100.0,195.0 C100.5,192.0 100.9,189.0 101.5,185.0 C102.1,181.0 102.5,178.0 103.0,175.0 C103.5,172.0 103.5,173.0 104.0,170.0 C104.5,167.0 104.9,164.0 105.5,160.0 C106.1,156.0 106.7,152.6 107.0,150.0 C107.3,147.4 107.1,149.0 107.0,147.0 C106.9,145.0 107.1,142.4 106.5,140.0 C105.9,137.6 105.3,136.8 104.0,135.0 C102.7,133.2 101.8,132.6 100.0,131.0 C98.2,129.4 96.6,128.6 95.0,127.0 C93.4,125.4 93.0,124.8 92.0,123.0 C91.0,121.2 90.8,120.0 90.0,118.0 C89.2,116.0 88.8,115.0 88.0,113.0 C87.2,111.0 86.8,109.8 86.0,108.0 C85.2,106.2 84.8,105.6 84.0,104.0 C83.2,102.4 82.6,101.6 82.0,100.0 C81.4,98.4 80.8,98.0 81.0,96.0 C81.2,94.0 82.8,92.0 83.0,90.0 C83.2,88.0 82.0,87.0 82.0,86.0 C82.0,85.0 82.4,86.2 83.0,85.0 C83.6,83.8 84.0,82.0 85.0,80.0 C86.0,78.0 87.0,77.0 88.0,75.0 C89.0,73.0 89.6,72.0 90.0,70.0 C90.4,68.0 90.2,67.0 90.0,65.0 C89.8,63.0 89.1,61.4 89.0,60.0 C88.9,58.6 89.1,59.0 89.5,58.0 Z"/>
<path d="M57.0,21.0 C59.0,20.2 63.5,20.2 65.0,21.0 C66.5,21.8 64.9,23.6 64.5,25.0 C64.1,26.4 63.5,26.8 63.0,28.0 C62.5,29.2 62.0,29.9 62.0,31.0 C62.0,32.1 62.0,32.8 63.0,33.5 C64.0,34.2 65.4,34.4 67.0,34.5 C68.6,34.6 69.6,33.8 71.0,34.0 C72.4,34.2 73.1,34.7 74.0,35.5 C74.9,36.3 75.2,36.7 75.5,38.0 C75.8,39.3 75.6,40.4 75.5,42.0 C75.4,43.6 75.0,44.6 75.0,46.0 C75.0,47.4 75.1,47.6 75.5,49.0 C75.9,50.4 76.1,51.7 77.0,53.0 C77.9,54.3 78.8,55.1 80.0,55.5 C81.2,55.9 82.0,55.2 83.0,55.0 C84.0,54.8 84.2,54.3 85.0,54.5 C85.8,54.7 86.1,55.3 87.0,56.0 C87.9,56.7 88.9,57.1 89.5,58.0 C90.1,58.9 90.3,60.2 89.8,60.5 C89.3,60.8 88.0,59.9 87.0,59.6 C86.0,59.3 85.7,59.5 85.0,59.2 C84.3,58.9 83.8,58.3 83.3,58.3 C82.8,58.3 83.0,58.9 82.3,59.3 C81.6,59.7 81.1,60.4 80.0,60.3 C78.9,60.2 78.0,59.5 77.0,58.7 C76.0,57.9 76.0,57.6 75.0,56.5 C74.0,55.4 73.2,54.5 72.0,53.0 C70.8,51.5 69.8,50.1 69.0,49.0 C68.2,47.9 68.6,48.3 68.0,47.5 C67.4,46.7 67.0,46.0 66.0,45.0 C65.0,44.0 64.2,43.3 63.0,42.5 C61.8,41.7 61.4,41.4 60.0,41.0 C58.6,40.6 57.4,41.1 56.0,40.5 C54.6,39.9 54.0,39.0 53.0,38.0 C52.0,37.0 52.0,36.4 51.0,35.5 C50.0,34.6 48.2,34.4 48.0,33.5 C47.8,32.6 49.7,31.9 50.0,31.0 C50.3,30.1 49.3,29.7 49.5,29.0 C49.7,28.3 49.9,28.3 51.0,27.5 C52.1,26.7 53.8,26.3 55.0,25.0 C56.2,23.7 55.0,21.8 57.0,21.0 Z"/>
<path d="M96.5,27.2 C97.2,27.5 98.7,27.1 100.1,27.5 C101.5,27.9 102.1,29.4 103.3,29.3 C104.5,29.2 104.8,27.6 106.2,27.2 C107.6,26.8 109.4,27.7 110.5,27.5 C111.6,27.3 111.7,26.9 111.5,26.3 C111.3,25.7 110.1,25.1 109.3,24.4 C108.5,23.7 108.8,23.3 107.6,22.9 C106.4,22.5 105.0,22.4 103.3,22.3 C101.6,22.2 99.7,22.3 99.2,22.6 C98.7,22.9 100.4,23.1 100.9,23.8 C101.4,24.5 102.0,25.8 101.6,26.3 C101.2,26.8 99.9,26.3 98.9,26.3 C97.9,26.3 97.2,25.9 96.7,26.1 C96.2,26.3 95.8,26.9 96.5,27.2 Z"/>
<path d="M86.3,80.4 C87.3,80.7 89.8,80.9 91.4,81.8 C93.0,82.7 92.8,83.8 94.3,84.7 C95.8,85.6 97.8,85.9 98.7,86.2"/>
<path d="M98.7,86.2 C97.8,87.2 96.0,89.3 94.3,91.3 C92.6,93.3 92.3,95.2 90.0,96.4 C87.7,97.6 84.4,97.7 82.7,97.1 C81.0,96.5 81.7,94.2 81.5,93.5"/>
<path d="M98.7,86.2 C99.9,86.8 102.9,87.8 104.5,89.1 C106.1,90.4 106.3,92.0 106.7,92.7"/>
<path d="M106.7,92.7 C107.0,91.4 108.1,88.4 108.1,86.2 C108.1,84.0 106.3,83.3 106.7,81.8 C107.1,80.3 108.8,79.8 110.3,78.9 C111.8,78.0 113.3,77.8 114.0,77.5"/>
<path d="M114.0,77.5 C114.1,76.6 114.7,74.9 114.7,73.1 C114.7,71.3 114.9,70.2 114.0,68.7 C113.1,67.2 112.2,66.7 110.3,65.8 C108.4,64.9 106.3,66.0 104.5,64.4 C102.7,62.8 101.9,60.5 101.5,58.0 C101.1,55.5 102.0,54.0 102.5,52.0 C103.0,50.0 103.7,48.8 104.0,48.0"/>
<path d="M114.0,77.5 C114.7,77.9 116.6,80.2 117.6,79.6 C118.6,79.0 118.1,76.2 119.0,74.5 C119.9,72.8 120.7,71.8 122.0,70.9 C123.3,70.0 124.4,70.8 125.6,70.2 C126.8,69.6 126.9,68.7 127.8,68.0 C128.7,67.3 129.6,66.8 130.0,66.5"/>
<path d="M130.0,66.5 C130.3,67.5 130.8,69.6 131.4,71.6 C132.0,73.6 131.9,75.4 132.9,76.7 C133.9,78.0 135.8,77.9 136.5,78.2"/>
<path d="M130.0,66.5 C130.4,65.8 131.5,64.6 132.0,63.0 C132.5,61.4 132.2,59.4 132.3,58.5"/>
<path d="M140.0,65.0 L140.0,78.2"/>
<path d="M148.0,66.0 L148.0,76.7"/>
<path d="M136.5,78.2 C137.2,78.2 138.5,78.6 140.0,78.2 C141.5,77.8 142.2,76.3 143.8,76.0 C145.4,75.7 146.4,76.8 148.0,76.7 C149.6,76.6 150.6,76.6 151.8,75.3 C153.0,74.0 153.6,71.1 154.0,70.0"/>
<path d="M106.7,92.7 C106.3,93.4 105.5,94.5 104.5,96.4 C103.5,98.3 103.0,100.1 101.6,102.0 C100.2,103.9 96.6,103.6 97.4,106.0 C98.2,108.4 103.0,112.0 105.4,114.0 C107.8,116.0 108.6,115.6 109.4,116.0"/>
<path d="M109.4,116.0 C110.6,115.6 113.2,114.6 115.4,114.0 C117.6,113.4 119.2,111.8 120.4,113.0 C121.6,114.2 120.4,117.8 121.4,120.0 C122.4,122.2 123.4,123.0 125.4,124.0 C127.4,125.0 129.6,123.8 131.4,125.0 C133.2,126.2 133.6,128.0 134.4,130.0 C135.2,132.0 135.6,133.0 135.4,135.0 C135.2,137.0 133.8,139.0 133.4,140.0"/>
<path d="M109.4,116.0 C109.6,117.2 110.4,119.6 110.4,122.0 C110.4,124.4 109.4,125.8 109.4,128.0 C109.4,130.2 110.2,132.0 110.4,133.0"/>
<path d="M107.0,136.0 C107.7,135.4 109.3,132.6 110.4,133.0 C111.5,133.4 111.4,136.0 112.4,138.0 C113.4,140.0 114.4,140.8 115.4,143.0 C116.4,145.2 117.0,147.8 117.4,149.0"/>
<path d="M117.4,149.0 C118.4,148.8 120.4,148.4 122.4,148.0 C124.4,147.6 126.2,147.7 127.4,147.0 C128.6,146.3 127.8,145.4 128.4,144.4 C129.0,143.4 129.3,142.5 130.4,142.0 C131.5,141.5 132.7,141.4 134.0,141.7 C135.3,142.0 136.1,142.4 137.0,143.5 C137.9,144.6 137.7,145.9 138.5,147.0 C139.3,148.1 140.0,148.2 141.0,149.0 C142.0,149.8 143.2,149.8 143.5,151.0 C143.8,152.2 142.6,154.2 142.4,155.0"/>
<path d="M137.0,143.5 C137.2,144.4 137.7,146.3 137.8,148.0 C137.9,149.7 137.9,150.6 137.5,152.0 C137.1,153.4 136.3,153.4 136.0,155.0 C135.7,156.6 136.0,159.0 136.0,160.0"/>
<path d="M122.4,148.0 C123.1,149.2 123.9,152.2 126.0,154.0 C128.1,155.8 131.0,155.8 133.0,157.0 C135.0,158.2 135.2,158.8 136.0,160.0 C136.8,161.2 137.2,161.8 137.0,163.0 C136.8,164.2 134.6,165.3 135.0,166.0 C135.4,166.7 137.4,166.7 139.0,166.5 C140.6,166.3 141.6,166.1 143.0,165.0 C144.4,163.9 145.6,162.6 146.0,161.0 C146.4,159.4 145.7,158.2 145.0,157.0 C144.3,155.8 142.9,155.4 142.4,155.0"/>
<path d="M143.0,165.0 C142.4,166.4 141.1,169.8 140.0,172.0 C138.9,174.2 138.1,174.2 137.5,176.0 C136.9,177.8 137.0,179.0 137.0,181.0 C137.0,183.0 137.2,185.0 137.3,186.0"/>
<path d="M137.5,176.0 C138.2,176.2 139.3,176.0 141.0,177.0 C142.7,178.0 144.3,179.6 146.0,181.0 C147.7,182.4 148.8,183.4 149.5,184.0"/>
<path d="M117.4,149.0 C116.9,150.0 116.0,151.8 115.0,154.0 C114.0,156.2 113.4,156.8 112.5,160.0 C111.6,163.2 111.3,166.0 110.5,170.0 C109.7,174.0 109.3,176.0 108.7,180.0 C108.1,184.0 108.2,186.0 107.7,190.0 C107.2,194.0 107.0,197.0 106.3,200.0 C105.6,203.0 104.7,202.0 104.3,205.0 C103.9,208.0 104.3,211.0 104.2,215.0 C104.1,219.0 103.9,221.0 103.7,225.0 C103.5,229.0 103.1,231.4 103.2,235.0 C103.3,238.6 102.8,240.8 104.0,243.0 C105.2,245.2 107.4,245.2 109.0,246.0 C110.6,246.8 111.4,246.8 112.0,247.0"/>
<path d="M110.5,247.5 L110.5,252.0"/>
<path d="M51.0,30.0 C52.0,30.0 55.0,29.4 56.0,30.0 C57.0,30.6 55.2,32.4 56.0,33.0 C56.8,33.6 59.0,34.0 60.0,33.0 C61.0,32.0 60.7,29.8 61.0,28.0 C61.3,26.2 61.4,24.8 61.5,24.0"/>
<path d="M56.0,40.0 C56.4,39.4 56.8,38.0 58.0,37.0 C59.2,36.0 61.2,35.4 62.0,35.0"/>
<path d="M63.0,42.0 C63.8,41.6 65.4,40.8 67.0,40.0 C68.6,39.2 69.4,38.6 71.0,38.0 C72.6,37.4 74.2,37.2 75.0,37.0"/>
<path d="M70.0,48.0 L75.0,47.0"/>
<path d="M76.0,52.0 L77.0,56.5"/>
<path d="M43.4,22.0 C43.5,22.4 43.6,23.4 44.0,24.0 C44.4,24.6 44.8,24.7 45.4,25.2 C46.0,25.7 46.1,25.8 47.0,26.5 C47.9,27.2 49.4,28.1 50.0,28.5"/>
<path d="M35.0,32.0 C35.6,32.2 36.6,32.4 38.0,33.0 C39.4,33.6 40.6,34.5 42.0,35.0 C43.4,35.5 44.0,35.8 45.0,35.5 C46.0,35.2 46.2,33.8 47.0,33.5 C47.8,33.2 48.6,33.9 49.0,34.0"/>
</g>
<path d="M185.0,248.0 L187.5,248.6 L189.8,250.3" fill="none" stroke="#15151f" stroke-width="1.1" stroke-linecap="round" stroke-linejoin="round" opacity="0.8"/>
<path d="M215.2,31.3 L215.5,31.6" fill="none" stroke="#15151f" stroke-width="0.9" stroke-linecap="round" stroke-linejoin="round" opacity="0.8"/>
<path d="M128.0,33.0 L128.1,33.3" fill="none" stroke="#15151f" stroke-width="0.7" stroke-linecap="round" stroke-linejoin="round" opacity="0.8"/>
<path d="M128.5,35.3 L128.6,36.0" fill="none" stroke="#15151f" stroke-width="0.8" stroke-linecap="round" stroke-linejoin="round" opacity="0.8"/>
<path d="M129.0,38.0 L129.1,38.8" fill="none" stroke="#15151f" stroke-width="0.8" stroke-linecap="round" stroke-linejoin="round" opacity="0.8"/>
<path d="M152.5,84.3 L155.5,86.2 L158.0,84.8" fill="none" stroke="#15151f" stroke-width="0.7" stroke-linecap="round" stroke-linejoin="round" opacity="0.8"/>
<path d="M153.0,86.6 L156.5,88.0" fill="none" stroke="#15151f" stroke-width="0.7" stroke-linecap="round" stroke-linejoin="round" opacity="0.8"/>
<path d="M149.7,182.3 L148.6,184.8" fill="none" stroke="#15151f" stroke-width="1.6" stroke-linecap="round" stroke-linejoin="round" opacity="0.8"/>
<path d="M152.8,176.2 L154.3,174.5" fill="none" stroke="#15151f" stroke-width="1.3" stroke-linecap="round" stroke-linejoin="round" opacity="0.8"/>
<path d="M124.0,175.2 L124.2,175.4" fill="none" stroke="#15151f" stroke-width="1.2" stroke-linecap="round" stroke-linejoin="round" opacity="0.8"/>
<path d="M167.0,139.5 L167.2,141.0" fill="none" stroke="#15151f" stroke-width="1.1" stroke-linecap="round" stroke-linejoin="round" opacity="0.8"/>
<path d="M165.3,146.3 L165.8,148.0" fill="none" stroke="#15151f" stroke-width="1.3" stroke-linecap="round" stroke-linejoin="round" opacity="0.8"/>
<path d="M96.5,211.5 L97.3,213.5 L96.6,215.5" fill="none" stroke="#15151f" stroke-width="0.9" stroke-linecap="round" stroke-linejoin="round" opacity="0.8"/>
<path d="M94.5,222.5 L95.8,224.0 L94.6,226.0 L96.0,228.0 L94.8,230.5 L96.2,232.5 L95.2,235.0 L97.0,237.0 L96.2,239.5 L98.2,241.0 L97.8,243.5 L100.0,245.0 L101.0,247.0 L103.5,247.5 L105.0,249.5 L108.0,249.5 L110.0,251.0 L113.0,250.5" fill="none" stroke="#15151f" stroke-width="0.9" stroke-linecap="round" stroke-linejoin="round" opacity="0.8"/>
<path d="M97.5,225.0 L98.5,228.0 L97.5,231.0 L99.0,234.0 L98.5,237.5 L100.5,240.0 L101.0,243.0 L104.0,245.5 L107.0,247.0" fill="none" stroke="#15151f" stroke-width="0.8" stroke-linecap="round" stroke-linejoin="round" opacity="0.8"/>
<path d="M104.0,246.0 L108.0,245.8 L111.0,247.0 L113.5,248.5" fill="none" stroke="#15151f" stroke-width="0.7" stroke-linecap="round" stroke-linejoin="round" opacity="0.8"/>
<ellipse cx="89.6" cy="27.7" rx="2.6" ry="0.8" fill="#d00000" stroke="#2a1414" stroke-width="0.45"/>
<ellipse cx="116" cy="27.8" rx="2.0" ry="0.8" fill="#8a1028" stroke="#2a1414" stroke-width="0.4"/>
<ellipse cx="133.5" cy="241" rx="3.3" ry="1.3" fill="#181890" stroke="#2a1414" stroke-width="0.4"/>
<ellipse cx="56.5" cy="84.7" rx="1.0" ry="1.2" fill="#a01030" stroke="#2a1414" stroke-width="0.4"/>
</g>
<rect x="35.45" y="22.45" width="192.3" height="243.45" fill="none" stroke="#444" stroke-width="0.95"/>
<line x1="30.6" y1="22.45" x2="35.45" y2="22.45" stroke="#333" stroke-width="1"/>
<line x1="30.6" y1="52.88" x2="35.45" y2="52.88" stroke="#333" stroke-width="1"/>
<line x1="30.6" y1="83.31" x2="35.45" y2="83.31" stroke="#333" stroke-width="1"/>
<line x1="30.6" y1="113.74" x2="35.45" y2="113.74" stroke="#333" stroke-width="1"/>
<line x1="30.6" y1="144.17" x2="35.45" y2="144.17" stroke="#333" stroke-width="1"/>
<line x1="30.6" y1="174.60" x2="35.45" y2="174.60" stroke="#333" stroke-width="1"/>
<line x1="30.6" y1="205.03" x2="35.45" y2="205.03" stroke="#333" stroke-width="1"/>
<line x1="30.6" y1="235.46" x2="35.45" y2="235.46" stroke="#333" stroke-width="1"/>
<line x1="30.6" y1="265.89" x2="35.45" y2="265.89" stroke="#333" stroke-width="1"/>
<line x1="35.45" y1="265.9" x2="35.45" y2="270.4" stroke="#333" stroke-width="1"/>
<line x1="83.56" y1="265.9" x2="83.56" y2="270.4" stroke="#333" stroke-width="1"/>
<line x1="131.67" y1="265.9" x2="131.67" y2="270.4" stroke="#333" stroke-width="1"/>
<line x1="179.78" y1="265.9" x2="179.78" y2="270.4" stroke="#333" stroke-width="1"/>
<line x1="227.89" y1="265.9" x2="227.89" y2="270.4" stroke="#333" stroke-width="1"/>
<text x="3.5" y="27.5" textLength="23.2" lengthAdjust="spacingAndGlyphs" class="ax">20N</text>
<text x="4.5" y="57.9" textLength="22.2" lengthAdjust="spacingAndGlyphs" class="ax">10N</text>
<text x="11.5" y="88.4" textLength="15.2" lengthAdjust="spacingAndGlyphs" class="ax">EQ</text>
<text x="4.9" y="118.8" textLength="21.8" lengthAdjust="spacingAndGlyphs" class="ax">10S</text>
<text x="4.1" y="149.2" textLength="22.6" lengthAdjust="spacingAndGlyphs" class="ax">20S</text>
<text x="4.1" y="179.7" textLength="22.6" lengthAdjust="spacingAndGlyphs" class="ax">30S</text>
<text x="3.9" y="210.1" textLength="22.8" lengthAdjust="spacingAndGlyphs" class="ax">40S</text>
<text x="4.1" y="240.5" textLength="22.6" lengthAdjust="spacingAndGlyphs" class="ax">50S</text>
<text x="4.5" y="270.9" textLength="22.2" lengthAdjust="spacingAndGlyphs" class="ax">60S</text>
<text x="19.8" y="284" textLength="31.7" lengthAdjust="spacingAndGlyphs" class="ax">100W</text>
<text x="71.7" y="284" textLength="24.2" lengthAdjust="spacingAndGlyphs" class="ax">80W</text>
<text x="119.8" y="284" textLength="24.2" lengthAdjust="spacingAndGlyphs" class="ax">60W</text>
<text x="167.9" y="284" textLength="24.2" lengthAdjust="spacingAndGlyphs" class="ax">40W</text>
<text x="216.3" y="284" textLength="23.6" lengthAdjust="spacingAndGlyphs" class="ax">20W</text>
<text y="16.4" class="ti"><tspan x="78.8" textLength="13.6" lengthAdjust="spacingAndGlyphs">(c)</tspan> <tspan x="99.5" textLength="17.5" lengthAdjust="spacingAndGlyphs">Ctrl</tspan> <tspan x="123.5" textLength="32.5" lengthAdjust="spacingAndGlyphs">Annual</tspan> <tspan x="163.3" textLength="21.0" lengthAdjust="spacingAndGlyphs">(oC)</tspan></text>
<path d="M230.6,79.9 L233.79999999999998,62.3 L237.0,79.9 Z" fill="#a30000" stroke="#400" stroke-width="0.3"/>
<rect x="230.6" y="79.9" width="6.4" height="17.599999999999994" fill="#cf0000"/>
<rect x="230.6" y="97.5" width="6.4" height="17.200000000000003" fill="#fb0d18"/>
<rect x="230.6" y="114.7" width="6.4" height="17.200000000000003" fill="#f6a3a3"/>
<rect x="230.6" y="131.9" width="6.4" height="17.299999999999983" fill="#fddcdc"/>
<rect x="230.6" y="149.2" width="6.4" height="17.400000000000006" fill="#f3f3ff"/>
<rect x="230.6" y="166.6" width="6.4" height="17.400000000000006" fill="#aaaaf3"/>
<rect x="230.6" y="184.0" width="6.4" height="17.400000000000006" fill="#6a6af2"/>
<rect x="230.6" y="201.4" width="6.4" height="17.400000000000006" fill="#2e2ee0"/>
<path d="M230.6,218.8 L233.79999999999998,236.2 L237.0,218.8 Z" fill="#00007a"/>
<rect x="230.6" y="79.9" width="6.4" height="138.9" fill="none" stroke="#333" stroke-width="0.4" opacity="0.7"/>
<line x1="230.6" y1="79.9" x2="237.0" y2="79.9" stroke="#222" stroke-width="0.5" opacity="0.6"/>
<line x1="230.6" y1="97.5" x2="237.0" y2="97.5" stroke="#222" stroke-width="0.5" opacity="0.6"/>
<line x1="230.6" y1="114.7" x2="237.0" y2="114.7" stroke="#222" stroke-width="0.5" opacity="0.6"/>
<line x1="230.6" y1="131.9" x2="237.0" y2="131.9" stroke="#222" stroke-width="0.5" opacity="0.6"/>
<line x1="230.6" y1="149.2" x2="237.0" y2="149.2" stroke="#222" stroke-width="0.5" opacity="0.6"/>
<line x1="230.6" y1="166.6" x2="237.0" y2="166.6" stroke="#222" stroke-width="0.5" opacity="0.6"/>
<line x1="230.6" y1="184.0" x2="237.0" y2="184.0" stroke="#222" stroke-width="0.5" opacity="0.6"/>
<line x1="230.6" y1="201.4" x2="237.0" y2="201.4" stroke="#222" stroke-width="0.5" opacity="0.6"/>
<line x1="230.6" y1="218.8" x2="237.0" y2="218.8" stroke="#222" stroke-width="0.5" opacity="0.6"/>
<text x="239.3" y="82.5" textLength="7.1" lengthAdjust="spacingAndGlyphs" class="cb">28</text>
<text x="239.3" y="100.1" textLength="7.1" lengthAdjust="spacingAndGlyphs" class="cb">26</text>
<text x="239.3" y="117.3" textLength="7.1" lengthAdjust="spacingAndGlyphs" class="cb">24</text>
<text x="239.3" y="134.5" textLength="7.1" lengthAdjust="spacingAndGlyphs" class="cb">20</text>
<text x="239.3" y="151.8" textLength="7.1" lengthAdjust="spacingAndGlyphs" class="cb">16</text>
<text x="239.3" y="169.2" textLength="7.1" lengthAdjust="spacingAndGlyphs" class="cb">12</text>
<text x="239.3" y="186.6" textLength="3.6" lengthAdjust="spacingAndGlyphs" class="cb">8</text>
<text x="239.3" y="204.0" textLength="3.6" lengthAdjust="spacingAndGlyphs" class="cb">4</text>
<text x="239.3" y="221.4" textLength="3.6" lengthAdjust="spacingAndGlyphs" class="cb">1</text>
</g>
<g transform="translate(298.35,0)">
<clipPath id="landR">
<path d="M89.5,58.0 C89.9,57.0 90.3,56.2 91.0,55.0 C91.7,53.8 92.2,53.0 93.0,52.0 C93.8,51.0 94.0,50.5 95.0,50.0 C96.0,49.5 97.0,50.0 98.0,49.5 C99.0,49.0 99.0,48.3 100.0,47.5 C101.0,46.7 102.2,45.5 103.0,45.5 C103.8,45.5 103.9,46.6 104.0,47.5 C104.1,48.4 103.6,49.0 103.5,50.0 C103.4,51.0 103.2,52.2 103.5,52.5 C103.8,52.8 104.5,52.2 105.0,51.5 C105.5,50.8 105.6,50.0 106.0,49.0 C106.4,48.0 106.5,46.8 107.0,46.5 C107.5,46.2 108.0,46.9 108.5,47.5 C109.0,48.1 108.8,48.9 109.5,49.3 C110.2,49.7 110.9,49.3 112.0,49.5 C113.1,49.7 113.8,50.2 115.0,50.5 C116.2,50.8 116.6,51.0 118.0,51.0 C119.4,51.0 120.4,50.5 122.0,50.3 C123.6,50.1 124.6,49.9 126.0,50.0 C127.4,50.1 128.1,50.0 129.0,51.0 C129.9,52.0 129.8,53.5 130.5,55.0 C131.2,56.5 131.6,57.1 132.5,58.5 C133.4,59.9 133.9,60.8 135.0,62.0 C136.1,63.2 136.4,64.1 138.0,64.7 C139.6,65.3 141.2,64.8 143.0,65.0 C144.8,65.2 145.6,64.9 147.0,65.5 C148.4,66.1 148.8,66.7 150.0,68.0 C151.2,69.3 152.0,70.2 153.0,72.0 C154.0,73.8 154.3,75.2 155.0,77.0 C155.7,78.8 156.4,79.5 156.3,81.0 C156.2,82.5 154.2,83.9 154.5,84.5 C154.8,85.1 156.5,84.0 158.0,84.2 C159.5,84.4 160.4,84.9 162.0,85.5 C163.6,86.1 164.6,86.1 166.0,87.0 C167.4,87.9 167.8,89.2 169.0,90.0 C170.2,90.8 170.6,90.7 172.0,91.0 C173.4,91.3 174.4,91.1 176.0,91.5 C177.6,91.9 178.4,92.3 180.0,93.0 C181.6,93.7 182.6,94.2 184.0,95.0 C185.4,95.8 185.8,96.0 187.0,97.0 C188.2,98.0 189.0,98.6 190.0,100.0 C191.0,101.4 191.6,102.4 192.0,104.0 C192.4,105.6 192.4,106.2 192.0,108.0 C191.6,109.8 191.0,111.0 190.0,113.0 C189.0,115.0 188.0,116.0 187.0,118.0 C186.0,120.0 185.6,120.8 185.0,123.0 C184.4,125.2 184.5,126.8 184.0,129.0 C183.5,131.2 183.1,131.8 182.5,134.0 C181.9,136.2 181.7,137.6 181.0,140.0 C180.3,142.4 180.2,143.8 179.0,146.0 C177.8,148.2 176.6,149.4 175.0,151.0 C173.4,152.6 172.6,153.1 171.0,154.0 C169.4,154.9 168.8,154.7 167.0,155.5 C165.2,156.3 163.6,156.9 162.0,158.0 C160.4,159.1 159.5,159.6 159.0,161.0 C158.5,162.4 159.7,163.2 159.5,165.0 C159.3,166.8 158.9,168.2 158.0,170.0 C157.1,171.8 156.0,172.4 155.0,174.0 C154.0,175.6 154.0,176.2 153.0,178.0 C152.0,179.8 151.2,181.3 150.0,183.0 C148.8,184.7 148.2,185.4 147.0,186.5 C145.8,187.6 145.4,188.3 144.0,188.5 C142.6,188.7 141.3,188.2 140.0,187.7 C138.7,187.2 137.9,185.7 137.3,186.0 C136.7,186.3 136.8,187.6 137.0,189.0 C137.2,190.4 138.1,191.6 138.5,193.0 C138.9,194.4 139.5,194.8 139.0,196.0 C138.5,197.2 137.6,198.0 136.0,199.0 C134.4,200.0 132.7,200.3 131.0,201.0 C129.3,201.7 128.5,201.1 127.5,202.3 C126.5,203.5 127.1,205.6 126.0,207.0 C124.9,208.4 123.1,208.7 122.0,209.5 C120.9,210.3 120.2,210.3 120.3,211.0 C120.4,211.7 122.6,212.1 122.5,213.0 C122.4,213.9 120.9,214.1 120.0,215.5 C119.1,216.9 119.0,218.5 118.0,220.0 C117.0,221.5 115.7,221.8 115.0,223.0 C114.3,224.2 114.1,224.9 114.5,226.0 C114.9,227.1 116.9,227.5 117.0,228.5 C117.1,229.5 116.0,229.7 115.0,231.0 C114.0,232.3 113.0,233.6 112.0,235.0 C111.0,236.4 110.5,236.6 110.0,238.0 C109.5,239.4 109.3,240.6 109.5,242.0 C109.7,243.4 110.1,243.8 111.0,245.0 C111.9,246.2 112.6,247.0 114.0,248.0 C115.4,249.0 116.6,249.5 118.0,250.0 C119.4,250.5 121.4,250.0 121.0,250.5 C120.6,251.0 118.2,252.0 116.0,252.3 C113.8,252.6 112.4,252.5 110.0,252.0 C107.6,251.5 106.2,251.0 104.0,250.0 C101.8,249.0 100.6,248.4 99.0,247.0 C97.4,245.6 96.9,244.8 96.0,243.0 C95.1,241.2 95.0,240.2 94.5,238.0 C94.0,235.8 93.6,234.2 93.5,232.0 C93.4,229.8 93.7,229.0 94.0,227.0 C94.3,225.0 94.4,224.4 95.0,222.0 C95.6,219.6 96.3,217.4 97.0,215.0 C97.7,212.6 98.1,213.0 98.5,210.0 C98.9,207.0 98.7,203.0 99.0,200.0 C99.3,197.0 99.5,198.0 100.0,195.0 C100.5,192.0 100.9,189.0 101.5,185.0 C102.1,181.0 102.5,178.0 103.0,175.0 C103.5,172.0 103.5,173.0 104.0,170.0 C104.5,167.0 104.9,164.0 105.5,160.0 C106.1,156.0 106.7,152.6 107.0,150.0 C107.3,147.4 107.1,149.0 107.0,147.0 C106.9,145.0 107.1,142.4 106.5,140.0 C105.9,137.6 105.3,136.8 104.0,135.0 C102.7,133.2 101.8,132.6 100.0,131.0 C98.2,129.4 96.6,128.6 95.0,127.0 C93.4,125.4 93.0,124.8 92.0,123.0 C91.0,121.2 90.8,120.0 90.0,118.0 C89.2,116.0 88.8,115.0 88.0,113.0 C87.2,111.0 86.8,109.8 86.0,108.0 C85.2,106.2 84.8,105.6 84.0,104.0 C83.2,102.4 82.6,101.6 82.0,100.0 C81.4,98.4 80.8,98.0 81.0,96.0 C81.2,94.0 82.8,92.0 83.0,90.0 C83.2,88.0 82.0,87.0 82.0,86.0 C82.0,85.0 82.4,86.2 83.0,85.0 C83.6,83.8 84.0,82.0 85.0,80.0 C86.0,78.0 87.0,77.0 88.0,75.0 C89.0,73.0 89.6,72.0 90.0,70.0 C90.4,68.0 90.2,67.0 90.0,65.0 C89.8,63.0 89.1,61.4 89.0,60.0 C88.9,58.6 89.1,59.0 89.5,58.0 Z"/>
<path d="M33.0,26.3 C35.1,25.2 40.9,26.2 43.4,26.0 C45.9,25.8 44.4,25.1 45.4,25.2 C46.4,25.3 46.8,26.3 48.4,26.5 C50.0,26.7 51.8,26.3 53.4,26.0 C55.0,25.7 55.6,26.0 56.4,25.0 C57.2,24.0 55.7,21.8 57.4,21.0 C59.1,20.2 63.6,20.2 65.0,21.0 C66.4,21.8 64.9,23.6 64.5,25.0 C64.1,26.4 63.5,26.8 63.0,28.0 C62.5,29.2 62.0,29.9 62.0,31.0 C62.0,32.1 62.0,32.8 63.0,33.5 C64.0,34.2 65.4,34.4 67.0,34.5 C68.6,34.6 69.6,33.8 71.0,34.0 C72.4,34.2 73.1,34.7 74.0,35.5 C74.9,36.3 75.2,36.7 75.5,38.0 C75.8,39.3 75.6,40.4 75.5,42.0 C75.4,43.6 75.0,44.6 75.0,46.0 C75.0,47.4 75.1,47.6 75.5,49.0 C75.9,50.4 76.1,51.7 77.0,53.0 C77.9,54.3 78.8,55.1 80.0,55.5 C81.2,55.9 82.0,55.2 83.0,55.0 C84.0,54.8 84.2,54.3 85.0,54.5 C85.8,54.7 86.1,55.3 87.0,56.0 C87.9,56.7 88.9,57.1 89.5,58.0 C90.1,58.9 90.3,60.2 89.8,60.5 C89.3,60.8 88.0,59.9 87.0,59.6 C86.0,59.3 85.7,59.5 85.0,59.2 C84.3,58.9 83.8,58.3 83.3,58.3 C82.8,58.3 83.0,58.9 82.3,59.3 C81.6,59.7 81.1,60.4 80.0,60.3 C78.9,60.2 78.0,59.5 77.0,58.7 C76.0,57.9 76.0,57.6 75.0,56.5 C74.0,55.4 73.2,54.5 72.0,53.0 C70.8,51.5 69.8,50.1 69.0,49.0 C68.2,47.9 68.6,48.3 68.0,47.5 C67.4,46.7 67.0,46.0 66.0,45.0 C65.0,44.0 64.2,43.3 63.0,42.5 C61.8,41.7 61.4,41.4 60.0,41.0 C58.6,40.6 57.4,41.1 56.0,40.5 C54.6,39.9 54.0,39.0 53.0,38.0 C52.0,37.0 52.0,36.4 51.0,35.5 C50.0,34.6 49.2,33.5 48.0,33.5 C46.8,33.5 46.2,35.2 45.0,35.5 C43.8,35.8 43.4,35.5 42.0,35.0 C40.6,34.5 39.8,33.7 38.0,33.0 C36.2,32.3 34.0,32.8 33.0,31.5 C32.0,30.2 30.9,27.4 33.0,26.3 Z"/>
</clipPath>
<clipPath id="frameR"><rect x="35" y="22" width="193" height="244"/></clipPath>
<g clip-path="url(#frameR)">
<g clip-path="url(#landR)" filter="url(#blur)">
<rect x="30" y="18" width="205" height="255" fill="#de0000"/>
<path d="M87.0,56.0 C89.1,52.8 93.5,52.9 97.0,54.0 C100.5,55.1 99.5,56.3 100.0,60.0 C100.5,63.7 98.2,64.3 99.0,68.0 C99.8,71.7 100.6,70.8 103.0,74.0 C105.4,77.2 106.1,75.7 108.0,80.0 C109.9,84.3 110.0,84.7 110.0,90.0 C110.0,95.3 107.5,95.2 108.0,100.0 C108.5,104.8 112.0,104.8 112.0,108.0 C112.0,111.2 111.2,112.0 108.0,112.0 C104.8,112.0 104.3,110.7 100.0,108.0 C95.7,105.3 96.3,104.1 92.0,102.0 C87.7,99.9 87.2,101.6 84.0,100.0 C80.8,98.4 80.0,101.3 80.0,96.0 C80.0,90.7 81.6,88.0 84.0,80.0 C86.4,72.0 88.2,72.4 89.0,66.0 C89.8,59.6 84.9,59.2 87.0,56.0 Z" fill="#fb0d18"/>
<path d="M108.0,118.0 C110.1,113.7 111.7,122.4 116.0,124.0 C120.3,125.6 120.3,122.4 124.0,124.0 C127.7,125.6 126.8,126.8 130.0,130.0 C133.2,133.2 132.8,134.9 136.0,136.0 C139.2,137.1 138.8,135.1 142.0,134.0 C145.2,132.9 144.3,133.1 148.0,132.0 C151.7,130.9 151.7,131.1 156.0,130.0 C160.3,128.9 160.8,130.1 164.0,128.0 C167.2,125.9 165.9,125.2 168.0,122.0 C170.1,118.8 169.3,118.7 172.0,116.0 C174.7,113.3 174.8,114.1 178.0,112.0 C181.2,109.9 181.3,111.2 184.0,108.0 C186.7,104.8 185.7,101.3 188.0,100.0 C190.3,98.7 191.2,99.8 192.5,103.0 C193.8,106.2 194.2,106.9 193.0,112.0 C191.8,117.1 194.1,114.5 188.0,122.0 C181.9,129.5 180.1,130.9 170.0,140.0 C159.9,149.1 163.3,151.2 150.0,156.0 C136.7,160.8 131.2,162.3 120.0,158.0 C108.8,153.7 111.2,150.7 108.0,140.0 C104.8,129.3 105.9,122.3 108.0,118.0 Z" fill="#fb0d18"/>
<path d="M120.0,100.0 C124.3,97.1 127.1,99.0 134.0,99.0 C140.9,99.0 140.9,98.7 146.0,100.0 C151.1,101.3 151.4,100.8 153.0,104.0 C154.6,107.2 153.6,108.3 152.0,112.0 C150.4,115.7 149.4,114.3 147.0,118.0 C144.6,121.7 145.4,122.0 143.0,126.0 C140.6,130.0 141.5,132.5 138.0,133.0 C134.5,133.5 134.3,131.5 130.0,128.0 C125.7,124.5 125.2,124.8 122.0,120.0 C118.8,115.2 118.5,115.3 118.0,110.0 C117.5,104.7 115.7,102.9 120.0,100.0 Z" fill="#fb0d18"/>
<path d="M117.0,136.0 C119.2,136.0 118.8,137.6 120.4,140.0 C122.0,142.4 121.5,142.6 123.0,145.0 C124.5,147.4 123.8,147.3 126.0,149.0 C128.2,150.7 128.4,150.7 131.4,151.5 C134.4,152.3 134.2,152.5 137.4,152.0 C140.6,151.5 140.3,150.6 143.4,149.5 C146.5,148.4 146.3,148.7 149.0,148.0 C151.7,147.3 151.3,148.1 153.4,147.0 C155.5,145.9 155.4,145.9 157.0,144.0 C158.6,142.1 158.8,143.5 159.4,140.0 C160.0,136.5 159.0,134.1 159.4,131.0 C159.8,127.9 159.9,129.3 161.0,128.5 C162.1,127.7 162.2,126.8 163.4,128.0 C164.6,129.2 164.2,131.7 165.4,133.0 C166.6,134.3 166.4,134.1 168.0,133.0 C169.6,131.9 169.7,131.9 171.4,129.0 C173.1,126.1 173.0,125.2 174.4,122.0 C175.8,118.8 175.3,118.1 176.5,117.0 C177.7,115.9 177.7,116.7 179.0,118.0 C180.3,119.3 179.7,122.0 181.4,122.0 C183.1,122.0 182.0,119.1 185.4,118.0 C188.8,116.9 192.2,106.8 194.0,118.0 C195.8,129.2 199.7,139.5 192.0,160.0 C184.3,180.5 178.9,181.7 165.0,195.0 C151.1,208.3 157.3,206.0 140.0,210.0 C122.7,214.0 110.7,226.0 100.0,210.0 C89.3,194.0 96.8,168.7 100.0,150.0 C103.2,131.3 107.5,143.7 112.0,140.0 C116.5,136.3 114.8,136.0 117.0,136.0 Z" fill="#f6a3a3"/>
<path d="M115.5,63.0 C116.2,61.4 117.4,61.7 118.5,62.5 C119.6,63.3 119.6,64.3 119.5,66.0 C119.4,67.7 118.9,68.3 118.0,69.0 C117.1,69.7 116.7,70.1 116.0,68.5 C115.3,66.9 114.8,64.6 115.5,63.0 Z" fill="#f6a3a3"/>
<path d="M125.5,66.0 C126.2,64.9 127.6,65.1 128.5,66.0 C129.4,66.9 129.7,68.4 129.0,69.5 C128.3,70.6 126.9,70.9 126.0,70.0 C125.1,69.1 124.8,67.1 125.5,66.0 Z" fill="#f6a3a3"/>
<path d="M110.0,166.0 C114.8,166.0 116.1,164.4 118.0,166.0 C119.9,167.6 117.8,168.7 117.0,172.0 C116.2,175.3 114.2,175.9 115.0,178.5 C115.8,181.1 116.0,180.7 120.0,181.8 C124.0,182.9 125.5,182.7 130.0,182.8 C134.5,182.9 135.1,183.8 137.0,182.0 C138.9,180.2 136.2,178.7 137.0,176.0 C137.8,173.3 137.9,174.1 140.0,172.0 C142.1,169.9 143.4,171.2 145.0,168.0 C146.6,164.8 144.7,163.0 146.0,160.0 C147.3,157.0 146.8,157.7 150.0,156.8 C153.2,155.9 153.2,157.0 158.0,156.5 C162.8,156.0 165.3,143.4 168.0,155.0 C170.7,166.6 186.1,185.3 168.0,200.0 C149.9,214.7 118.1,219.1 100.0,210.0 C81.9,200.9 97.3,177.7 100.0,166.0 C102.7,154.3 105.2,166.0 110.0,166.0 Z" fill="#fddcdc"/>
<path d="M116.0,171.0 C117.2,170.2 118.8,169.9 120.0,171.0 C121.2,172.1 121.3,173.7 120.5,175.0 C119.7,176.3 118.3,176.3 117.0,176.0 C115.7,175.7 115.8,175.3 115.5,174.0 C115.2,172.7 114.8,171.8 116.0,171.0 Z" fill="#f6a3a3"/>
<path d="M152.0,160.0 C153.3,158.9 154.7,158.7 156.0,160.0 C157.3,161.3 157.3,162.3 157.0,165.0 C156.7,167.7 156.3,168.9 155.0,170.0 C153.7,171.1 153.1,170.6 152.0,169.0 C150.9,167.4 151.0,166.4 151.0,164.0 C151.0,161.6 150.7,161.1 152.0,160.0 Z" fill="#f3f3ff"/>
<path d="M113.0,193.0 C115.0,195.3 116.0,193.1 120.0,193.5 C124.0,193.9 124.0,194.1 128.0,194.5 C132.0,194.9 131.5,194.1 135.0,195.0 C138.5,195.9 142.9,195.1 141.0,198.0 C139.1,200.9 132.0,202.8 128.0,206.0 C124.0,209.2 127.6,207.9 126.0,210.0 C124.4,212.1 124.4,213.2 122.0,214.0 C119.6,214.8 119.4,214.1 117.0,213.0 C114.6,211.9 114.9,212.4 113.0,210.0 C111.1,207.6 111.3,206.7 110.0,204.0 C108.7,201.3 108.5,203.7 108.0,200.0 C107.5,196.3 107.7,195.3 108.0,190.0 C108.3,184.7 108.2,184.0 109.0,180.0 C109.8,176.0 110.1,173.7 111.0,175.0 C111.9,176.3 112.0,180.2 112.5,185.0 C113.0,189.8 111.0,190.7 113.0,193.0 Z" fill="#f3f3ff"/>
<path d="M84.0,98.0 C84.3,96.1 84.4,96.2 86.0,97.0 C87.6,97.8 87.9,98.6 90.0,101.0 C92.1,103.4 91.6,103.1 94.0,106.0 C96.4,108.9 96.3,108.8 99.0,112.0 C101.7,115.2 101.3,114.9 104.0,118.0 C106.7,121.1 106.1,120.6 109.0,123.5 C111.9,126.4 112.3,126.2 115.0,129.0 C117.7,131.8 117.3,131.1 119.0,134.0 C120.7,136.9 120.6,137.1 121.5,140.0 C122.4,142.9 122.4,141.8 122.5,145.0 C122.6,148.2 122.4,148.5 122.0,152.0 C121.6,155.5 121.5,154.8 121.0,158.0 C120.5,161.2 120.8,161.3 120.0,164.0 C119.2,166.7 120.1,165.9 118.0,168.0 C115.9,170.1 113.9,168.8 112.0,172.0 C110.1,175.2 111.3,173.9 111.0,180.0 C110.7,186.1 110.5,189.7 111.0,195.0 C111.5,200.3 115.9,198.7 113.0,200.0 C110.1,201.3 103.2,202.7 100.0,200.0 C96.8,197.3 100.2,195.9 101.0,190.0 C101.8,184.1 101.9,184.7 103.0,178.0 C104.1,171.3 103.8,171.9 105.0,165.0 C106.2,158.1 106.8,157.1 107.5,152.0 C108.2,146.9 107.7,149.1 107.5,146.0 C107.3,142.9 107.6,143.2 106.8,140.5 C106.0,137.8 106.2,138.3 104.5,136.0 C102.8,133.7 102.8,134.3 100.5,132.0 C98.2,129.7 98.0,129.9 96.0,127.5 C94.0,125.1 94.3,125.5 93.0,123.0 C91.7,120.5 92.1,120.7 91.0,118.0 C89.9,115.3 90.1,115.7 89.0,113.0 C87.9,110.3 88.1,110.4 87.0,108.0 C85.9,105.6 85.8,106.7 85.0,104.0 C84.2,101.3 83.7,99.9 84.0,98.0 Z" fill="#fddcdc"/>
<path d="M84.5,98.5 C84.5,97.0 84.7,97.1 86.0,98.0 C87.3,98.9 87.6,99.7 89.5,102.0 C91.4,104.3 90.7,103.7 93.0,106.5 C95.3,109.3 95.3,109.3 98.0,112.5 C100.7,115.7 100.3,115.4 103.0,118.5 C105.7,121.6 105.1,121.1 108.0,124.0 C110.9,126.9 111.3,126.7 114.0,129.5 C116.7,132.3 116.3,131.7 118.0,134.5 C119.7,137.3 119.6,137.2 120.5,140.0 C121.4,142.8 121.4,141.8 121.5,145.0 C121.6,148.2 121.4,148.5 121.0,152.0 C120.6,155.5 120.5,154.8 120.0,158.0 C119.5,161.2 119.8,161.3 119.0,164.0 C118.2,166.7 118.9,165.9 117.0,168.0 C115.1,170.1 113.6,168.8 112.0,172.0 C110.4,175.2 111.3,173.9 111.0,180.0 C110.7,186.1 110.5,189.7 111.0,195.0 C111.5,200.3 115.9,198.7 113.0,200.0 C110.1,201.3 103.2,202.7 100.0,200.0 C96.8,197.3 100.2,195.9 101.0,190.0 C101.8,184.1 101.9,184.7 103.0,178.0 C104.1,171.3 103.8,171.9 105.0,165.0 C106.2,158.1 106.7,157.1 107.5,152.0 C108.3,146.9 108.0,149.2 108.0,146.0 C108.0,142.8 108.2,142.8 107.5,140.0 C106.8,137.2 107.1,137.8 105.5,135.5 C103.9,133.2 103.8,133.8 101.5,131.5 C99.2,129.2 99.0,129.4 97.0,127.0 C95.0,124.6 95.3,125.0 94.0,122.5 C92.7,120.0 93.1,120.2 92.0,117.5 C90.9,114.8 91.1,115.2 90.0,112.5 C88.9,109.8 89.1,109.9 88.0,107.5 C86.9,105.1 86.9,105.9 86.0,103.5 C85.1,101.1 84.5,100.0 84.5,98.5 Z" fill="#f3f3ff"/>
<path d="M86.5,102.0 C87.0,101.6 86.9,101.9 88.0,103.0 C89.1,104.1 89.2,104.1 90.5,106.0 C91.8,107.9 91.4,107.6 93.0,110.0 C94.6,112.4 94.5,112.3 96.5,115.0 C98.5,117.7 97.7,117.3 100.5,120.0 C103.3,122.7 103.8,122.3 107.0,125.0 C110.2,127.7 109.8,127.3 112.5,130.0 C115.2,132.7 115.3,132.3 117.0,135.0 C118.7,137.7 118.2,137.3 119.0,140.0 C119.8,142.7 119.9,142.3 120.0,145.0 C120.1,147.7 119.8,147.3 119.5,150.0 C119.2,152.7 119.4,152.3 119.0,155.0 C118.6,157.7 118.8,157.3 118.0,160.0 C117.2,162.7 117.6,162.6 116.0,165.0 C114.4,167.4 113.6,165.3 112.0,169.0 C110.4,172.7 110.6,174.7 110.0,179.0 C109.4,183.3 109.7,180.7 109.7,185.0 C109.7,189.3 109.4,191.0 110.0,195.0 C110.6,199.0 110.9,197.3 112.0,200.0 C113.1,202.7 112.4,202.3 114.0,205.0 C115.6,207.7 116.4,207.3 118.0,210.0 C119.6,212.7 119.9,212.3 120.0,215.0 C120.1,217.7 119.3,217.3 118.5,220.0 C117.7,222.7 117.1,222.3 117.0,225.0 C116.9,227.7 119.1,227.3 118.0,230.0 C116.9,232.7 115.0,232.3 113.0,235.0 C111.0,237.7 110.9,237.3 110.5,240.0 C110.1,242.7 108.4,242.3 111.5,245.0 C114.6,247.7 119.2,247.6 122.0,250.0 C124.8,252.4 127.9,252.9 122.0,254.0 C116.1,255.1 108.3,256.1 100.0,254.0 C91.7,251.9 93.4,253.7 91.0,246.0 C88.6,238.3 90.2,233.3 91.0,225.0 C91.8,216.7 92.4,220.1 94.0,215.0 C95.6,209.9 94.6,210.0 97.0,206.0 C99.4,202.0 100.9,202.9 103.0,200.0 C105.1,197.1 104.2,199.0 105.0,195.0 C105.8,191.0 105.7,189.3 106.0,185.0 C106.3,180.7 105.7,183.0 106.0,179.0 C106.3,175.0 106.3,173.7 107.0,170.0 C107.7,166.3 108.0,167.7 108.5,165.0 C109.0,162.3 108.4,162.7 109.0,160.0 C109.6,157.3 110.1,157.7 110.6,155.0 C111.1,152.3 110.9,152.7 110.8,150.0 C110.7,147.3 110.7,147.5 110.2,145.0 C109.7,142.5 110.0,142.8 109.0,140.5 C108.0,138.2 107.9,138.6 106.3,136.5 C104.7,134.4 105.0,134.8 103.0,132.5 C101.0,130.2 100.7,130.3 98.8,128.0 C96.9,125.7 97.5,126.5 95.8,124.0 C94.1,121.5 93.9,121.3 92.5,118.5 C91.1,115.7 91.6,116.2 90.5,113.5 C89.4,110.8 89.6,110.9 88.5,108.5 C87.4,106.1 86.8,106.2 86.3,104.5 C85.8,102.8 86.0,102.4 86.5,102.0 Z" fill="#aaaaf3"/>
<path d="M99.0,120.5 C101.8,122.0 101.6,122.3 104.5,125.0 C107.4,127.7 107.6,127.6 110.0,130.5 C112.4,133.4 112.0,132.9 113.5,136.0 C115.0,139.1 114.7,138.8 115.5,142.0 C116.3,145.2 116.2,144.5 116.5,148.0 C116.8,151.5 116.8,151.8 116.5,155.0 C116.2,158.2 116.2,157.3 115.5,160.0 C114.8,162.7 115.1,162.6 114.0,165.0 C112.9,167.4 112.7,165.3 111.5,169.0 C110.3,172.7 110.2,174.7 109.6,179.0 C109.0,183.3 109.3,180.7 109.2,185.0 C109.1,189.3 109.3,191.0 109.2,195.0 C109.1,199.0 109.3,197.3 109.0,200.0 C108.7,202.7 106.7,202.3 108.0,205.0 C109.3,207.7 112.1,206.0 114.0,210.0 C115.9,214.0 115.3,214.9 115.0,220.0 C114.7,225.1 114.9,225.0 113.0,229.0 C111.1,233.0 109.6,231.5 108.0,235.0 C106.4,238.5 106.5,238.8 107.0,242.0 C107.5,245.2 107.1,244.5 110.0,247.0 C112.9,249.5 120.7,249.6 118.0,251.5 C115.3,253.4 107.2,255.5 100.0,254.0 C92.8,252.5 93.4,253.7 91.0,246.0 C88.6,238.3 90.2,233.3 91.0,225.0 C91.8,216.7 92.1,219.8 94.0,215.0 C95.9,210.2 95.5,211.0 98.0,207.0 C100.5,203.0 101.5,203.2 103.5,200.0 C105.5,196.8 104.8,199.0 105.5,195.0 C106.2,191.0 106.1,189.3 106.3,185.0 C106.5,180.7 106.0,183.0 106.3,179.0 C106.6,175.0 106.8,173.7 107.5,170.0 C108.2,166.3 108.3,167.7 109.0,165.0 C109.7,162.3 109.5,162.7 110.0,160.0 C110.5,157.3 110.6,157.7 110.9,155.0 C111.2,152.3 111.2,152.7 111.1,150.0 C111.0,147.3 111.1,147.5 110.6,145.0 C110.1,142.5 110.4,142.8 109.4,140.5 C108.4,138.2 108.3,138.5 106.8,136.5 C105.3,134.5 105.5,135.1 103.6,133.0 C101.7,130.9 101.3,130.8 99.5,128.5 C97.7,126.2 98.3,126.9 96.8,124.5 C95.3,122.1 93.4,120.6 94.0,119.5 C94.6,118.4 96.2,119.0 99.0,120.5 Z" fill="#6a6af2"/>
<path d="M115.0,150.0 C116.0,152.1 115.3,154.3 115.0,158.0 C114.7,161.7 115.1,161.1 114.0,164.0 C112.9,166.9 112.3,165.0 111.0,169.0 C109.7,173.0 109.8,173.4 109.3,179.0 C108.8,184.6 109.2,184.4 109.0,190.0 C108.8,195.6 109.6,196.0 108.5,200.0 C107.4,204.0 105.9,197.3 105.0,205.0 C104.1,212.7 105.5,220.7 105.0,229.0 C104.5,237.3 103.3,232.3 103.0,236.0 C102.7,239.7 101.6,239.5 104.0,243.0 C106.4,246.5 108.3,246.7 112.0,249.0 C115.7,251.3 121.2,250.2 118.0,251.5 C114.8,252.8 107.2,255.5 100.0,254.0 C92.8,252.5 93.4,253.7 91.0,246.0 C88.6,238.3 90.2,233.3 91.0,225.0 C91.8,216.7 92.1,219.8 94.0,215.0 C95.9,210.2 95.5,211.0 98.0,207.0 C100.5,203.0 101.1,203.2 103.2,200.0 C105.3,196.8 104.9,199.0 105.8,195.0 C106.7,191.0 106.2,189.3 106.4,185.0 C106.6,180.7 106.2,183.0 106.6,179.0 C107.0,175.0 107.1,174.0 108.0,170.0 C108.9,166.0 109.1,167.2 110.0,164.0 C110.9,160.8 110.8,161.7 111.2,158.0 C111.6,154.3 110.4,152.1 111.4,150.0 C112.4,147.9 114.0,147.9 115.0,150.0 Z" fill="#2e2ee0"/>
<path d="M109.3,160.0 C110.0,158.1 110.9,157.9 111.3,160.0 C111.7,162.1 111.3,164.0 110.7,168.0 C110.1,172.0 109.9,170.2 109.2,175.0 C108.5,179.8 108.8,183.1 108.2,186.0 C107.6,188.9 107.2,188.9 107.0,186.0 C106.8,183.1 106.9,180.1 107.3,175.0 C107.7,169.9 108.1,171.0 108.6,167.0 C109.1,163.0 108.6,161.9 109.3,160.0 Z" fill="#00007a"/>
<path d="M98.0,203.0 C99.7,199.8 101.8,195.5 103.2,200.0 C104.6,204.5 105.1,214.7 103.2,220.0 C101.3,225.3 97.7,222.1 96.0,220.0 C94.3,217.9 96.5,216.5 97.0,212.0 C97.5,207.5 96.3,206.2 98.0,203.0 Z" fill="#aaaaf3"/>
<path d="M98.5,203.0 C99.6,199.7 100.7,198.6 101.5,201.5 C102.3,204.4 102.6,210.7 101.5,214.0 C100.4,217.3 98.3,216.9 97.5,214.0 C96.7,211.1 97.4,206.3 98.5,203.0 Z" fill="#f3f3ff"/>
<path d="M96.0,218.0 C98.7,214.8 101.1,212.8 103.0,216.0 C104.9,219.2 103.5,224.1 103.0,230.0 C102.5,235.9 102.1,234.5 101.0,238.0 C99.9,241.5 100.6,243.0 99.0,243.0 C97.4,243.0 96.6,242.0 95.0,238.0 C93.4,234.0 92.7,233.3 93.0,228.0 C93.3,222.7 93.3,221.2 96.0,218.0 Z" fill="#6a6af2"/>
<path d="M93.0,224.0 C94.3,220.3 95.9,221.5 98.0,222.0 C100.1,222.5 100.1,222.3 101.0,226.0 C101.9,229.7 101.0,231.5 101.5,236.0 C102.0,240.5 101.3,239.9 103.0,243.0 C104.7,246.1 105.1,245.9 108.0,247.5 C110.9,249.1 110.5,248.1 114.0,249.0 C117.5,249.9 120.5,249.9 121.0,251.0 C121.5,252.1 120.5,253.0 116.0,253.0 C111.5,253.0 109.3,253.4 104.0,251.0 C98.7,248.6 98.9,248.0 96.0,244.0 C93.1,240.0 93.8,241.3 93.0,236.0 C92.2,230.7 91.7,227.7 93.0,224.0 Z" fill="#2e2ee0"/>
<path d="M93.0,54.0 C94.2,52.9 95.1,53.9 96.0,56.0 C96.9,58.1 96.5,58.8 96.3,62.0 C96.1,65.2 95.8,64.8 95.3,68.0 C94.8,71.2 95.0,71.3 94.3,74.0 C93.6,76.7 93.5,75.9 92.5,78.0 C91.5,80.1 91.4,79.9 90.5,82.0 C89.6,84.1 89.6,83.9 89.0,86.0 C88.4,88.1 88.6,87.6 88.3,90.0 C88.0,92.4 87.8,92.3 88.0,95.0 C88.2,97.7 89.7,98.4 89.0,100.0 C88.3,101.6 86.8,102.1 85.5,101.0 C84.2,99.9 84.3,98.9 84.0,96.0 C83.7,93.1 84.0,93.2 84.3,90.0 C84.6,86.8 84.5,86.9 85.3,84.0 C86.1,81.1 86.2,81.7 87.3,79.0 C88.4,76.3 88.4,77.5 89.3,74.0 C90.2,70.5 89.9,69.7 90.5,66.0 C91.1,62.3 90.8,63.2 91.5,60.0 C92.2,56.8 91.8,55.1 93.0,54.0 Z" fill="#fddcdc"/>
<path d="M93.5,58.0 C94.3,56.1 94.7,56.9 95.0,59.0 C95.3,61.1 95.1,62.0 94.6,66.0 C94.1,70.0 94.0,70.3 93.0,74.0 C92.0,77.7 92.0,77.1 90.8,80.0 C89.6,82.9 89.5,81.8 88.6,85.0 C87.7,88.2 88.3,90.1 87.5,92.0 C86.7,93.9 85.9,94.1 85.5,92.0 C85.1,89.9 85.3,87.5 86.0,84.0 C86.7,80.5 86.9,81.9 88.0,79.0 C89.1,76.1 88.9,76.5 90.0,73.0 C91.1,69.5 91.1,70.0 92.0,66.0 C92.9,62.0 92.7,59.9 93.5,58.0 Z" fill="#f3f3ff"/>
<path d="M100.0,51.5 C101.3,51.0 102.5,51.3 103.0,53.0 C103.5,54.7 102.6,55.1 102.0,58.0 C101.4,60.9 101.4,60.8 100.8,64.0 C100.2,67.2 100.5,66.8 99.8,70.0 C99.1,73.2 99.3,73.2 98.0,76.0 C96.7,78.8 96.7,79.4 95.0,80.5 C93.3,81.6 91.8,82.0 91.5,80.0 C91.2,78.0 92.9,76.7 94.0,73.0 C95.1,69.3 95.0,69.5 95.7,66.0 C96.4,62.5 96.2,62.9 96.8,60.0 C97.4,57.1 97.1,57.3 98.0,55.0 C98.9,52.7 98.7,52.0 100.0,51.5 Z" fill="#fddcdc"/>
<path d="M99.3,58.0 C100.6,56.1 100.9,56.9 101.0,59.0 C101.1,61.1 100.5,62.3 99.6,66.0 C98.7,69.7 99.0,70.1 97.8,73.0 C96.6,75.9 95.9,76.7 95.0,77.0 C94.1,77.3 94.0,76.9 94.3,74.0 C94.6,71.1 95.0,70.3 96.3,66.0 C97.6,61.7 98.0,59.9 99.3,58.0 Z" fill="#f3f3ff"/>
<path d="M104.0,50.0 C105.1,48.8 106.0,49.2 106.3,50.5 C106.6,51.8 105.9,52.5 105.3,55.0 C104.7,57.5 104.9,58.5 104.0,60.0 C103.1,61.5 102.5,61.8 102.0,60.5 C101.5,59.2 101.8,57.8 102.3,55.0 C102.8,52.2 102.9,51.2 104.0,50.0 Z" fill="#fddcdc"/>
<path d="M33.0,25.0 C35.4,23.1 39.1,24.2 42.0,25.0 C44.9,25.8 43.7,26.1 44.0,28.0 C44.3,29.9 44.1,30.4 43.0,32.0 C41.9,33.6 42.7,34.0 40.0,34.0 C37.3,34.0 34.9,34.4 33.0,32.0 C31.1,29.6 30.6,26.9 33.0,25.0 Z" fill="#f6a3a3"/>
<path d="M35.0,27.0 C36.1,25.9 38.4,25.9 40.0,27.0 C41.6,28.1 42.1,29.9 41.0,31.0 C39.9,32.1 37.6,32.1 36.0,31.0 C34.4,29.9 33.9,28.1 35.0,27.0 Z" fill="#fddcdc"/>
<path d="M44.0,26.0 C46.4,23.9 51.1,23.4 54.0,25.0 C56.9,26.6 56.1,29.6 55.0,32.0 C53.9,34.4 52.7,33.7 50.0,34.0 C47.3,34.3 46.6,35.1 45.0,33.0 C43.4,30.9 41.6,28.1 44.0,26.0 Z" fill="#fb0d18"/>
<path d="M50.0,32.0 C51.5,31.6 51.6,32.1 54.0,32.5 C56.4,32.9 56.9,32.8 59.0,33.5 C61.1,34.2 60.1,34.5 62.0,35.0 C63.9,35.5 63.6,35.2 66.0,35.5 C68.4,35.8 69.4,34.8 71.0,36.0 C72.6,37.2 72.5,38.4 72.0,40.0 C71.5,41.6 70.6,40.9 69.0,42.0 C67.4,43.1 67.9,44.0 66.0,44.0 C64.1,44.0 64.7,42.8 62.0,42.0 C59.3,41.2 58.7,42.1 56.0,41.0 C53.3,39.9 54.0,39.9 52.0,38.0 C50.0,36.1 49.0,35.6 48.5,34.0 C48.0,32.4 48.5,32.4 50.0,32.0 Z" fill="#f6a3a3"/>
<path d="M53.0,33.5 C54.2,33.0 55.4,32.8 56.5,34.0 C57.6,35.2 57.7,36.7 57.0,38.0 C56.3,39.3 55.3,39.5 54.0,39.0 C52.7,38.5 52.3,37.5 52.0,36.0 C51.7,34.5 51.8,34.0 53.0,33.5 Z" fill="#fddcdc"/>
<path d="M70.0,36.0 C71.6,34.4 74.4,32.3 76.0,36.0 C77.6,39.7 75.5,45.2 76.0,50.0 C76.5,54.8 75.9,52.7 78.0,54.0 C80.1,55.3 81.1,53.9 84.0,55.0 C86.9,56.1 88.5,56.9 89.0,58.0 C89.5,59.1 88.4,58.5 86.0,59.0 C83.6,59.5 82.9,60.8 80.0,60.0 C77.1,59.2 77.4,58.7 75.0,56.0 C72.6,53.3 72.9,52.7 71.0,50.0 C69.1,47.3 68.3,48.1 68.0,46.0 C67.7,43.9 69.5,44.7 70.0,42.0 C70.5,39.3 68.4,37.6 70.0,36.0 Z" fill="#fb0d18"/>
</g>
<g fill="none" stroke="#1c1010" stroke-width="0.6" stroke-linejoin="round" opacity="0.9">
<path d="M89.5,58.0 C89.9,57.0 90.3,56.2 91.0,55.0 C91.7,53.8 92.2,53.0 93.0,52.0 C93.8,51.0 94.0,50.5 95.0,50.0 C96.0,49.5 97.0,50.0 98.0,49.5 C99.0,49.0 99.0,48.3 100.0,47.5 C101.0,46.7 102.2,45.5 103.0,45.5 C103.8,45.5 103.9,46.6 104.0,47.5 C104.1,48.4 103.6,49.0 103.5,50.0 C103.4,51.0 103.2,52.2 103.5,52.5 C103.8,52.8 104.5,52.2 105.0,51.5 C105.5,50.8 105.6,50.0 106.0,49.0 C106.4,48.0 106.5,46.8 107.0,46.5 C107.5,46.2 108.0,46.9 108.5,47.5 C109.0,48.1 108.8,48.9 109.5,49.3 C110.2,49.7 110.9,49.3 112.0,49.5 C113.1,49.7 113.8,50.2 115.0,50.5 C116.2,50.8 116.6,51.0 118.0,51.0 C119.4,51.0 120.4,50.5 122.0,50.3 C123.6,50.1 124.6,49.9 126.0,50.0 C127.4,50.1 128.1,50.0 129.0,51.0 C129.9,52.0 129.8,53.5 130.5,55.0 C131.2,56.5 131.6,57.1 132.5,58.5 C133.4,59.9 133.9,60.8 135.0,62.0 C136.1,63.2 136.4,64.1 138.0,64.7 C139.6,65.3 141.2,64.8 143.0,65.0 C144.8,65.2 145.6,64.9 147.0,65.5 C148.4,66.1 148.8,66.7 150.0,68.0 C151.2,69.3 152.0,70.2 153.0,72.0 C154.0,73.8 154.3,75.2 155.0,77.0 C155.7,78.8 156.4,79.5 156.3,81.0 C156.2,82.5 154.2,83.9 154.5,84.5 C154.8,85.1 156.5,84.0 158.0,84.2 C159.5,84.4 160.4,84.9 162.0,85.5 C163.6,86.1 164.6,86.1 166.0,87.0 C167.4,87.9 167.8,89.2 169.0,90.0 C170.2,90.8 170.6,90.7 172.0,91.0 C173.4,91.3 174.4,91.1 176.0,91.5 C177.6,91.9 178.4,92.3 180.0,93.0 C181.6,93.7 182.6,94.2 184.0,95.0 C185.4,95.8 185.8,96.0 187.0,97.0 C188.2,98.0 189.0,98.6 190.0,100.0 C191.0,101.4 191.6,102.4 192.0,104.0 C192.4,105.6 192.4,106.2 192.0,108.0 C191.6,109.8 191.0,111.0 190.0,113.0 C189.0,115.0 188.0,116.0 187.0,118.0 C186.0,120.0 185.6,120.8 185.0,123.0 C184.4,125.2 184.5,126.8 184.0,129.0 C183.5,131.2 183.1,131.8 182.5,134.0 C181.9,136.2 181.7,137.6 181.0,140.0 C180.3,142.4 180.2,143.8 179.0,146.0 C177.8,148.2 176.6,149.4 175.0,151.0 C173.4,152.6 172.6,153.1 171.0,154.0 C169.4,154.9 168.8,154.7 167.0,155.5 C165.2,156.3 163.6,156.9 162.0,158.0 C160.4,159.1 159.5,159.6 159.0,161.0 C158.5,162.4 159.7,163.2 159.5,165.0 C159.3,166.8 158.9,168.2 158.0,170.0 C157.1,171.8 156.0,172.4 155.0,174.0 C154.0,175.6 154.0,176.2 153.0,178.0 C152.0,179.8 151.2,181.3 150.0,183.0 C148.8,184.7 148.2,185.4 147.0,186.5 C145.8,187.6 145.4,188.3 144.0,188.5 C142.6,188.7 141.3,188.2 140.0,187.7 C138.7,187.2 137.9,185.7 137.3,186.0 C136.7,186.3 136.8,187.6 137.0,189.0 C137.2,190.4 138.1,191.6 138.5,193.0 C138.9,194.4 139.5,194.8 139.0,196.0 C138.5,197.2 137.6,198.0 136.0,199.0 C134.4,200.0 132.7,200.3 131.0,201.0 C129.3,201.7 128.5,201.1 127.5,202.3 C126.5,203.5 127.1,205.6 126.0,207.0 C124.9,208.4 123.1,208.7 122.0,209.5 C120.9,210.3 120.2,210.3 120.3,211.0 C120.4,211.7 122.6,212.1 122.5,213.0 C122.4,213.9 120.9,214.1 120.0,215.5 C119.1,216.9 119.0,218.5 118.0,220.0 C117.0,221.5 115.7,221.8 115.0,223.0 C114.3,224.2 114.1,224.9 114.5,226.0 C114.9,227.1 116.9,227.5 117.0,228.5 C117.1,229.5 116.0,229.7 115.0,231.0 C114.0,232.3 113.0,233.6 112.0,235.0 C111.0,236.4 110.5,236.6 110.0,238.0 C109.5,239.4 109.3,240.6 109.5,242.0 C109.7,243.4 110.1,243.8 111.0,245.0 C111.9,246.2 112.6,247.0 114.0,248.0 C115.4,249.0 116.6,249.5 118.0,250.0 C119.4,250.5 121.4,250.0 121.0,250.5 C120.6,251.0 118.2,252.0 116.0,252.3 C113.8,252.6 112.4,252.5 110.0,252.0 C107.6,251.5 106.2,251.0 104.0,250.0 C101.8,249.0 100.6,248.4 99.0,247.0 C97.4,245.6 96.9,244.8 96.0,243.0 C95.1,241.2 95.0,240.2 94.5,238.0 C94.0,235.8 93.6,234.2 93.5,232.0 C93.4,229.8 93.7,229.0 94.0,227.0 C94.3,225.0 94.4,224.4 95.0,222.0 C95.6,219.6 96.3,217.4 97.0,215.0 C97.7,212.6 98.1,213.0 98.5,210.0 C98.9,207.0 98.7,203.0 99.0,200.0 C99.3,197.0 99.5,198.0 100.0,195.0 C100.5,192.0 100.9,189.0 101.5,185.0 C102.1,181.0 102.5,178.0 103.0,175.0 C103.5,172.0 103.5,173.0 104.0,170.0 C104.5,167.0 104.9,164.0 105.5,160.0 C106.1,156.0 106.7,152.6 107.0,150.0 C107.3,147.4 107.1,149.0 107.0,147.0 C106.9,145.0 107.1,142.4 106.5,140.0 C105.9,137.6 105.3,136.8 104.0,135.0 C102.7,133.2 101.8,132.6 100.0,131.0 C98.2,129.4 96.6,128.6 95.0,127.0 C93.4,125.4 93.0,124.8 92.0,123.0 C91.0,121.2 90.8,120.0 90.0,118.0 C89.2,116.0 88.8,115.0 88.0,113.0 C87.2,111.0 86.8,109.8 86.0,108.0 C85.2,106.2 84.8,105.6 84.0,104.0 C83.2,102.4 82.6,101.6 82.0,100.0 C81.4,98.4 80.8,98.0 81.0,96.0 C81.2,94.0 82.8,92.0 83.0,90.0 C83.2,88.0 82.0,87.0 82.0,86.0 C82.0,85.0 82.4,86.2 83.0,85.0 C83.6,83.8 84.0,82.0 85.0,80.0 C86.0,78.0 87.0,77.0 88.0,75.0 C89.0,73.0 89.6,72.0 90.0,70.0 C90.4,68.0 90.2,67.0 90.0,65.0 C89.8,63.0 89.1,61.4 89.0,60.0 C88.9,58.6 89.1,59.0 89.5,58.0 Z"/>
<path d="M33.0,26.3 C35.1,25.2 40.9,26.2 43.4,26.0 C45.9,25.8 44.4,25.1 45.4,25.2 C46.4,25.3 46.8,26.3 48.4,26.5 C50.0,26.7 51.8,26.3 53.4,26.0 C55.0,25.7 55.6,26.0 56.4,25.0 C57.2,24.0 55.7,21.8 57.4,21.0 C59.1,20.2 63.6,20.2 65.0,21.0 C66.4,21.8 64.9,23.6 64.5,25.0 C64.1,26.4 63.5,26.8 63.0,28.0 C62.5,29.2 62.0,29.9 62.0,31.0 C62.0,32.1 62.0,32.8 63.0,33.5 C64.0,34.2 65.4,34.4 67.0,34.5 C68.6,34.6 69.6,33.8 71.0,34.0 C72.4,34.2 73.1,34.7 74.0,35.5 C74.9,36.3 75.2,36.7 75.5,38.0 C75.8,39.3 75.6,40.4 75.5,42.0 C75.4,43.6 75.0,44.6 75.0,46.0 C75.0,47.4 75.1,47.6 75.5,49.0 C75.9,50.4 76.1,51.7 77.0,53.0 C77.9,54.3 78.8,55.1 80.0,55.5 C81.2,55.9 82.0,55.2 83.0,55.0 C84.0,54.8 84.2,54.3 85.0,54.5 C85.8,54.7 86.1,55.3 87.0,56.0 C87.9,56.7 88.9,57.1 89.5,58.0 C90.1,58.9 90.3,60.2 89.8,60.5 C89.3,60.8 88.0,59.9 87.0,59.6 C86.0,59.3 85.7,59.5 85.0,59.2 C84.3,58.9 83.8,58.3 83.3,58.3 C82.8,58.3 83.0,58.9 82.3,59.3 C81.6,59.7 81.1,60.4 80.0,60.3 C78.9,60.2 78.0,59.5 77.0,58.7 C76.0,57.9 76.0,57.6 75.0,56.5 C74.0,55.4 73.2,54.5 72.0,53.0 C70.8,51.5 69.8,50.1 69.0,49.0 C68.2,47.9 68.6,48.3 68.0,47.5 C67.4,46.7 67.0,46.0 66.0,45.0 C65.0,44.0 64.2,43.3 63.0,42.5 C61.8,41.7 61.4,41.4 60.0,41.0 C58.6,40.6 57.4,41.1 56.0,40.5 C54.6,39.9 54.0,39.0 53.0,38.0 C52.0,37.0 52.0,36.4 51.0,35.5 C50.0,34.6 49.2,33.5 48.0,33.5 C46.8,33.5 46.2,35.2 45.0,35.5 C43.8,35.8 43.4,35.5 42.0,35.0 C40.6,34.5 39.8,33.7 38.0,33.0 C36.2,32.3 34.0,32.8 33.0,31.5 C32.0,30.2 30.9,27.4 33.0,26.3 Z"/>
<path d="M96.5,27.2 C97.2,27.5 98.7,27.1 100.1,27.5 C101.5,27.9 102.1,29.4 103.3,29.3 C104.5,29.2 104.8,27.6 106.2,27.2 C107.6,26.8 109.4,27.7 110.5,27.5 C111.6,27.3 111.7,26.9 111.5,26.3 C111.3,25.7 110.1,25.1 109.3,24.4 C108.5,23.7 108.8,23.3 107.6,22.9 C106.4,22.5 105.0,22.4 103.3,22.3 C101.6,22.2 99.7,22.3 99.2,22.6 C98.7,22.9 100.4,23.1 100.9,23.8 C101.4,24.5 102.0,25.8 101.6,26.3 C101.2,26.8 99.9,26.3 98.9,26.3 C97.9,26.3 97.2,25.9 96.7,26.1 C96.2,26.3 95.8,26.9 96.5,27.2 Z"/>
<path d="M86.3,80.4 C87.3,80.7 89.8,80.9 91.4,81.8 C93.0,82.7 92.8,83.8 94.3,84.7 C95.8,85.6 97.8,85.9 98.7,86.2"/>
<path d="M98.7,86.2 C97.8,87.2 96.0,89.3 94.3,91.3 C92.6,93.3 92.3,95.2 90.0,96.4 C87.7,97.6 84.4,97.7 82.7,97.1 C81.0,96.5 81.7,94.2 81.5,93.5"/>
<path d="M98.7,86.2 C99.9,86.8 102.9,87.8 104.5,89.1 C106.1,90.4 106.3,92.0 106.7,92.7"/>
<path d="M106.7,92.7 C107.0,91.4 108.1,88.4 108.1,86.2 C108.1,84.0 106.3,83.3 106.7,81.8 C107.1,80.3 108.8,79.8 110.3,78.9 C111.8,78.0 113.3,77.8 114.0,77.5"/>
<path d="M114.0,77.5 C114.1,76.6 114.7,74.9 114.7,73.1 C114.7,71.3 114.9,70.2 114.0,68.7 C113.1,67.2 112.2,66.7 110.3,65.8 C108.4,64.9 106.3,66.0 104.5,64.4 C102.7,62.8 101.9,60.5 101.5,58.0 C101.1,55.5 102.0,54.0 102.5,52.0 C103.0,50.0 103.7,48.8 104.0,48.0"/>
<path d="M114.0,77.5 C114.7,77.9 116.6,80.2 117.6,79.6 C118.6,79.0 118.1,76.2 119.0,74.5 C119.9,72.8 120.7,71.8 122.0,70.9 C123.3,70.0 124.4,70.8 125.6,70.2 C126.8,69.6 126.9,68.7 127.8,68.0 C128.7,67.3 129.6,66.8 130.0,66.5"/>
<path d="M130.0,66.5 C130.3,67.5 130.8,69.6 131.4,71.6 C132.0,73.6 131.9,75.4 132.9,76.7 C133.9,78.0 135.8,77.9 136.5,78.2"/>
<path d="M130.0,66.5 C130.4,65.8 131.5,64.6 132.0,63.0 C132.5,61.4 132.2,59.4 132.3,58.5"/>
<path d="M140.0,65.0 L140.0,78.2"/>
<path d="M148.0,66.0 L148.0,76.7"/>
<path d="M136.5,78.2 C137.2,78.2 138.5,78.6 140.0,78.2 C141.5,77.8 142.2,76.3 143.8,76.0 C145.4,75.7 146.4,76.8 148.0,76.7 C149.6,76.6 150.6,76.6 151.8,75.3 C153.0,74.0 153.6,71.1 154.0,70.0"/>
<path d="M106.7,92.7 C106.3,93.4 105.5,94.5 104.5,96.4 C103.5,98.3 103.0,100.1 101.6,102.0 C100.2,103.9 96.6,103.6 97.4,106.0 C98.2,108.4 103.0,112.0 105.4,114.0 C107.8,116.0 108.6,115.6 109.4,116.0"/>
<path d="M109.4,116.0 C110.6,115.6 113.2,114.6 115.4,114.0 C117.6,113.4 119.2,111.8 120.4,113.0 C121.6,114.2 120.4,117.8 121.4,120.0 C122.4,122.2 123.4,123.0 125.4,124.0 C127.4,125.0 129.6,123.8 131.4,125.0 C133.2,126.2 133.6,128.0 134.4,130.0 C135.2,132.0 135.6,133.0 135.4,135.0 C135.2,137.0 133.8,139.0 133.4,140.0"/>
<path d="M109.4,116.0 C109.6,117.2 110.4,119.6 110.4,122.0 C110.4,124.4 109.4,125.8 109.4,128.0 C109.4,130.2 110.2,132.0 110.4,133.0"/>
<path d="M107.0,136.0 C107.7,135.4 109.3,132.6 110.4,133.0 C111.5,133.4 111.4,136.0 112.4,138.0 C113.4,140.0 114.4,140.8 115.4,143.0 C116.4,145.2 117.0,147.8 117.4,149.0"/>
<path d="M117.4,149.0 C118.4,148.8 120.4,148.4 122.4,148.0 C124.4,147.6 126.2,147.7 127.4,147.0 C128.6,146.3 127.8,145.4 128.4,144.4 C129.0,143.4 129.3,142.5 130.4,142.0 C131.5,141.5 132.7,141.4 134.0,141.7 C135.3,142.0 136.1,142.4 137.0,143.5 C137.9,144.6 137.7,145.9 138.5,147.0 C139.3,148.1 140.0,148.2 141.0,149.0 C142.0,149.8 143.2,149.8 143.5,151.0 C143.8,152.2 142.6,154.2 142.4,155.0"/>
<path d="M137.0,143.5 C137.2,144.4 137.7,146.3 137.8,148.0 C137.9,149.7 137.9,150.6 137.5,152.0 C137.1,153.4 136.3,153.4 136.0,155.0 C135.7,156.6 136.0,159.0 136.0,160.0"/>
<path d="M122.4,148.0 C123.1,149.2 123.9,152.2 126.0,154.0 C128.1,155.8 131.0,155.8 133.0,157.0 C135.0,158.2 135.2,158.8 136.0,160.0 C136.8,161.2 137.2,161.8 137.0,163.0 C136.8,164.2 134.6,165.3 135.0,166.0 C135.4,166.7 137.4,166.7 139.0,166.5 C140.6,166.3 141.6,166.1 143.0,165.0 C144.4,163.9 145.6,162.6 146.0,161.0 C146.4,159.4 145.7,158.2 145.0,157.0 C144.3,155.8 142.9,155.4 142.4,155.0"/>
<path d="M143.0,165.0 C142.4,166.4 141.1,169.8 140.0,172.0 C138.9,174.2 138.1,174.2 137.5,176.0 C136.9,177.8 137.0,179.0 137.0,181.0 C137.0,183.0 137.2,185.0 137.3,186.0"/>
<path d="M137.5,176.0 C138.2,176.2 139.3,176.0 141.0,177.0 C142.7,178.0 144.3,179.6 146.0,181.0 C147.7,182.4 148.8,183.4 149.5,184.0"/>
<path d="M117.4,149.0 C116.9,150.0 116.0,151.8 115.0,154.0 C114.0,156.2 113.4,156.8 112.5,160.0 C111.6,163.2 111.3,166.0 110.5,170.0 C109.7,174.0 109.3,176.0 108.7,180.0 C108.1,184.0 108.2,186.0 107.7,190.0 C107.2,194.0 107.0,197.0 106.3,200.0 C105.6,203.0 104.7,202.0 104.3,205.0 C103.9,208.0 104.3,211.0 104.2,215.0 C104.1,219.0 103.9,221.0 103.7,225.0 C103.5,229.0 103.1,231.4 103.2,235.0 C103.3,238.6 102.8,240.8 104.0,243.0 C105.2,245.2 107.4,245.2 109.0,246.0 C110.6,246.8 111.4,246.8 112.0,247.0"/>
<path d="M110.5,247.5 L110.5,252.0"/>
<path d="M51.0,30.0 C52.0,30.0 55.0,29.4 56.0,30.0 C57.0,30.6 55.2,32.4 56.0,33.0 C56.8,33.6 59.0,34.0 60.0,33.0 C61.0,32.0 60.7,29.8 61.0,28.0 C61.3,26.2 61.4,24.8 61.5,24.0"/>
<path d="M56.0,40.0 C56.4,39.4 56.8,38.0 58.0,37.0 C59.2,36.0 61.2,35.4 62.0,35.0"/>
<path d="M63.0,42.0 C63.8,41.6 65.4,40.8 67.0,40.0 C68.6,39.2 69.4,38.6 71.0,38.0 C72.6,37.4 74.2,37.2 75.0,37.0"/>
<path d="M70.0,48.0 L75.0,47.0"/>
<path d="M76.0,52.0 L77.0,56.5"/>
<path d="M43.4,22.0 C43.5,22.4 43.6,23.4 44.0,24.0 C44.4,24.6 45.1,25.0 45.4,25.2"/>
</g>
<path d="M185.0,248.0 L187.5,248.6 L189.8,250.3" fill="none" stroke="#15151f" stroke-width="1.1" stroke-linecap="round" stroke-linejoin="round" opacity="0.8"/>
<path d="M215.2,31.3 L215.5,31.6" fill="none" stroke="#15151f" stroke-width="0.9" stroke-linecap="round" stroke-linejoin="round" opacity="0.8"/>
<path d="M128.0,33.0 L128.1,33.3" fill="none" stroke="#15151f" stroke-width="0.7" stroke-linecap="round" stroke-linejoin="round" opacity="0.8"/>
<path d="M128.5,35.3 L128.6,36.0" fill="none" stroke="#15151f" stroke-width="0.8" stroke-linecap="round" stroke-linejoin="round" opacity="0.8"/>
<path d="M129.0,38.0 L129.1,38.8" fill="none" stroke="#15151f" stroke-width="0.8" stroke-linecap="round" stroke-linejoin="round" opacity="0.8"/>
<path d="M152.5,84.3 L155.5,86.2 L158.0,84.8" fill="none" stroke="#15151f" stroke-width="0.7" stroke-linecap="round" stroke-linejoin="round" opacity="0.8"/>
<path d="M153.0,86.6 L156.5,88.0" fill="none" stroke="#15151f" stroke-width="0.7" stroke-linecap="round" stroke-linejoin="round" opacity="0.8"/>
<path d="M149.7,182.3 L148.6,184.8" fill="none" stroke="#15151f" stroke-width="1.6" stroke-linecap="round" stroke-linejoin="round" opacity="0.8"/>
<path d="M152.8,176.2 L154.3,174.5" fill="none" stroke="#15151f" stroke-width="1.3" stroke-linecap="round" stroke-linejoin="round" opacity="0.8"/>
<path d="M124.0,175.2 L124.2,175.4" fill="none" stroke="#15151f" stroke-width="1.2" stroke-linecap="round" stroke-linejoin="round" opacity="0.8"/>
<path d="M167.0,139.5 L167.2,141.0" fill="none" stroke="#15151f" stroke-width="1.1" stroke-linecap="round" stroke-linejoin="round" opacity="0.8"/>
<path d="M165.3,146.3 L165.8,148.0" fill="none" stroke="#15151f" stroke-width="1.3" stroke-linecap="round" stroke-linejoin="round" opacity="0.8"/>
<path d="M96.5,211.5 L97.3,213.5 L96.6,215.5" fill="none" stroke="#15151f" stroke-width="0.9" stroke-linecap="round" stroke-linejoin="round" opacity="0.8"/>
<path d="M94.5,222.5 L95.8,224.0 L94.6,226.0 L96.0,228.0 L94.8,230.5 L96.2,232.5 L95.2,235.0 L97.0,237.0 L96.2,239.5 L98.2,241.0 L97.8,243.5 L100.0,245.0 L101.0,247.0 L103.5,247.5 L105.0,249.5 L108.0,249.5 L110.0,251.0 L113.0,250.5" fill="none" stroke="#15151f" stroke-width="0.9" stroke-linecap="round" stroke-linejoin="round" opacity="0.8"/>
<path d="M97.5,225.0 L98.5,228.0 L97.5,231.0 L99.0,234.0 L98.5,237.5 L100.5,240.0 L101.0,243.0 L104.0,245.5 L107.0,247.0" fill="none" stroke="#15151f" stroke-width="0.8" stroke-linecap="round" stroke-linejoin="round" opacity="0.8"/>
<path d="M104.0,246.0 L108.0,245.8 L111.0,247.0 L113.5,248.5" fill="none" stroke="#15151f" stroke-width="0.7" stroke-linecap="round" stroke-linejoin="round" opacity="0.8"/>
<ellipse cx="89.6" cy="27.7" rx="2.6" ry="0.8" fill="#ffffff" stroke="#2a1414" stroke-width="0.45"/>
<ellipse cx="116" cy="27.8" rx="2.0" ry="0.8" fill="#8a1028" stroke="#2a1414" stroke-width="0.4"/>
<ellipse cx="133.5" cy="241" rx="3.3" ry="1.3" fill="#181890" stroke="#2a1414" stroke-width="0.4"/>
<ellipse cx="56.5" cy="84.7" rx="1.0" ry="1.2" fill="#a01030" stroke="#2a1414" stroke-width="0.4"/>
</g>
<rect x="35.45" y="22.45" width="192.3" height="243.45" fill="none" stroke="#444" stroke-width="0.95"/>
<line x1="30.6" y1="22.45" x2="35.45" y2="22.45" stroke="#333" stroke-width="1"/>
<line x1="30.6" y1="52.88" x2="35.45" y2="52.88" stroke="#333" stroke-width="1"/>
<line x1="30.6" y1="83.31" x2="35.45" y2="83.31" stroke="#333" stroke-width="1"/>
<line x1="30.6" y1="113.74" x2="35.45" y2="113.74" stroke="#333" stroke-width="1"/>
<line x1="30.6" y1="144.17" x2="35.45" y2="144.17" stroke="#333" stroke-width="1"/>
<line x1="30.6" y1="174.60" x2="35.45" y2="174.60" stroke="#333" stroke-width="1"/>
<line x1="30.6" y1="205.03" x2="35.45" y2="205.03" stroke="#333" stroke-width="1"/>
<line x1="30.6" y1="235.46" x2="35.45" y2="235.46" stroke="#333" stroke-width="1"/>
<line x1="30.6" y1="265.89" x2="35.45" y2="265.89" stroke="#333" stroke-width="1"/>
<line x1="35.45" y1="265.9" x2="35.45" y2="270.4" stroke="#333" stroke-width="1"/>
<line x1="83.56" y1="265.9" x2="83.56" y2="270.4" stroke="#333" stroke-width="1"/>
<line x1="131.67" y1="265.9" x2="131.67" y2="270.4" stroke="#333" stroke-width="1"/>
<line x1="179.78" y1="265.9" x2="179.78" y2="270.4" stroke="#333" stroke-width="1"/>
<line x1="227.89" y1="265.9" x2="227.89" y2="270.4" stroke="#333" stroke-width="1"/>
<text x="3.5" y="27.5" textLength="23.2" lengthAdjust="spacingAndGlyphs" class="ax">20N</text>
<text x="4.5" y="57.9" textLength="22.2" lengthAdjust="spacingAndGlyphs" class="ax">10N</text>
<text x="11.5" y="88.4" textLength="15.2" lengthAdjust="spacingAndGlyphs" class="ax">EQ</text>
<text x="4.9" y="118.8" textLength="21.8" lengthAdjust="spacingAndGlyphs" class="ax">10S</text>
<text x="4.1" y="149.2" textLength="22.6" lengthAdjust="spacingAndGlyphs" class="ax">20S</text>
<text x="4.1" y="179.7" textLength="22.6" lengthAdjust="spacingAndGlyphs" class="ax">30S</text>
<text x="3.9" y="210.1" textLength="22.8" lengthAdjust="spacingAndGlyphs" class="ax">40S</text>
<text x="4.1" y="240.5" textLength="22.6" lengthAdjust="spacingAndGlyphs" class="ax">50S</text>
<text x="4.5" y="270.9" textLength="22.2" lengthAdjust="spacingAndGlyphs" class="ax">60S</text>
<text x="19.8" y="284" textLength="31.7" lengthAdjust="spacingAndGlyphs" class="ax">100W</text>
<text x="71.7" y="284" textLength="24.2" lengthAdjust="spacingAndGlyphs" class="ax">80W</text>
<text x="119.8" y="284" textLength="24.2" lengthAdjust="spacingAndGlyphs" class="ax">60W</text>
<text x="167.9" y="284" textLength="24.2" lengthAdjust="spacingAndGlyphs" class="ax">40W</text>
<text x="216.3" y="284" textLength="23.6" lengthAdjust="spacingAndGlyphs" class="ax">20W</text>
<text y="16.4" class="ti"><tspan x="76.5" textLength="15.3" lengthAdjust="spacingAndGlyphs">(d)</tspan> <tspan x="98.3" textLength="19.1" lengthAdjust="spacingAndGlyphs">CRU</tspan> <tspan x="124.8" textLength="32.8" lengthAdjust="spacingAndGlyphs">Annual</tspan> <tspan x="164.9" textLength="21.0" lengthAdjust="spacingAndGlyphs">(oC)</tspan></text>
<path d="M230.6,79.9 L233.79999999999998,62.3 L237.0,79.9 Z" fill="#a30000" stroke="#400" stroke-width="0.3"/>
<rect x="230.6" y="79.9" width="6.4" height="17.599999999999994" fill="#cf0000"/>
<rect x="230.6" y="97.5" width="6.4" height="17.200000000000003" fill="#fb0d18"/>
<rect x="230.6" y="114.7" width="6.4" height="17.200000000000003" fill="#f6a3a3"/>
<rect x="230.6" y="131.9" width="6.4" height="17.299999999999983" fill="#fddcdc"/>
<rect x="230.6" y="149.2" width="6.4" height="17.400000000000006" fill="#f3f3ff"/>
<rect x="230.6" y="166.6" width="6.4" height="17.400000000000006" fill="#aaaaf3"/>
<rect x="230.6" y="184.0" width="6.4" height="17.400000000000006" fill="#6a6af2"/>
<rect x="230.6" y="201.4" width="6.4" height="17.400000000000006" fill="#2e2ee0"/>
<path d="M230.6,218.8 L233.79999999999998,236.2 L237.0,218.8 Z" fill="#00007a"/>
<rect x="230.6" y="79.9" width="6.4" height="138.9" fill="none" stroke="#333" stroke-width="0.4" opacity="0.7"/>
<line x1="230.6" y1="79.9" x2="237.0" y2="79.9" stroke="#222" stroke-width="0.5" opacity="0.6"/>
<line x1="230.6" y1="97.5" x2="237.0" y2="97.5" stroke="#222" stroke-width="0.5" opacity="0.6"/>
<line x1="230.6" y1="114.7" x2="237.0" y2="114.7" stroke="#222" stroke-width="0.5" opacity="0.6"/>
<line x1="230.6" y1="131.9" x2="237.0" y2="131.9" stroke="#222" stroke-width="0.5" opacity="0.6"/>
<line x1="230.6" y1="149.2" x2="237.0" y2="149.2" stroke="#222" stroke-width="0.5" opacity="0.6"/>
<line x1="230.6" y1="166.6" x2="237.0" y2="166.6" stroke="#222" stroke-width="0.5" opacity="0.6"/>
<line x1="230.6" y1="184.0" x2="237.0" y2="184.0" stroke="#222" stroke-width="0.5" opacity="0.6"/>
<line x1="230.6" y1="201.4" x2="237.0" y2="201.4" stroke="#222" stroke-width="0.5" opacity="0.6"/>
<line x1="230.6" y1="218.8" x2="237.0" y2="218.8" stroke="#222" stroke-width="0.5" opacity="0.6"/>
<text x="239.3" y="82.5" textLength="7.1" lengthAdjust="spacingAndGlyphs" class="cb">28</text>
<text x="239.3" y="100.1" textLength="7.1" lengthAdjust="spacingAndGlyphs" class="cb">26</text>
<text x="239.3" y="117.3" textLength="7.1" lengthAdjust="spacingAndGlyphs" class="cb">24</text>
<text x="239.3" y="134.5" textLength="7.1" lengthAdjust="spacingAndGlyphs" class="cb">20</text>
<text x="239.3" y="151.8" textLength="7.1" lengthAdjust="spacingAndGlyphs" class="cb">16</text>
<text x="239.3" y="169.2" textLength="7.1" lengthAdjust="spacingAndGlyphs" class="cb">12</text>
<text x="239.3" y="186.6" textLength="3.6" lengthAdjust="spacingAndGlyphs" class="cb">8</text>
<text x="239.3" y="204.0" textLength="3.6" lengthAdjust="spacingAndGlyphs" class="cb">4</text>
<text x="239.3" y="221.4" textLength="3.6" lengthAdjust="spacingAndGlyphs" class="cb">1</text>
</g>
</svg>
</body></html>
